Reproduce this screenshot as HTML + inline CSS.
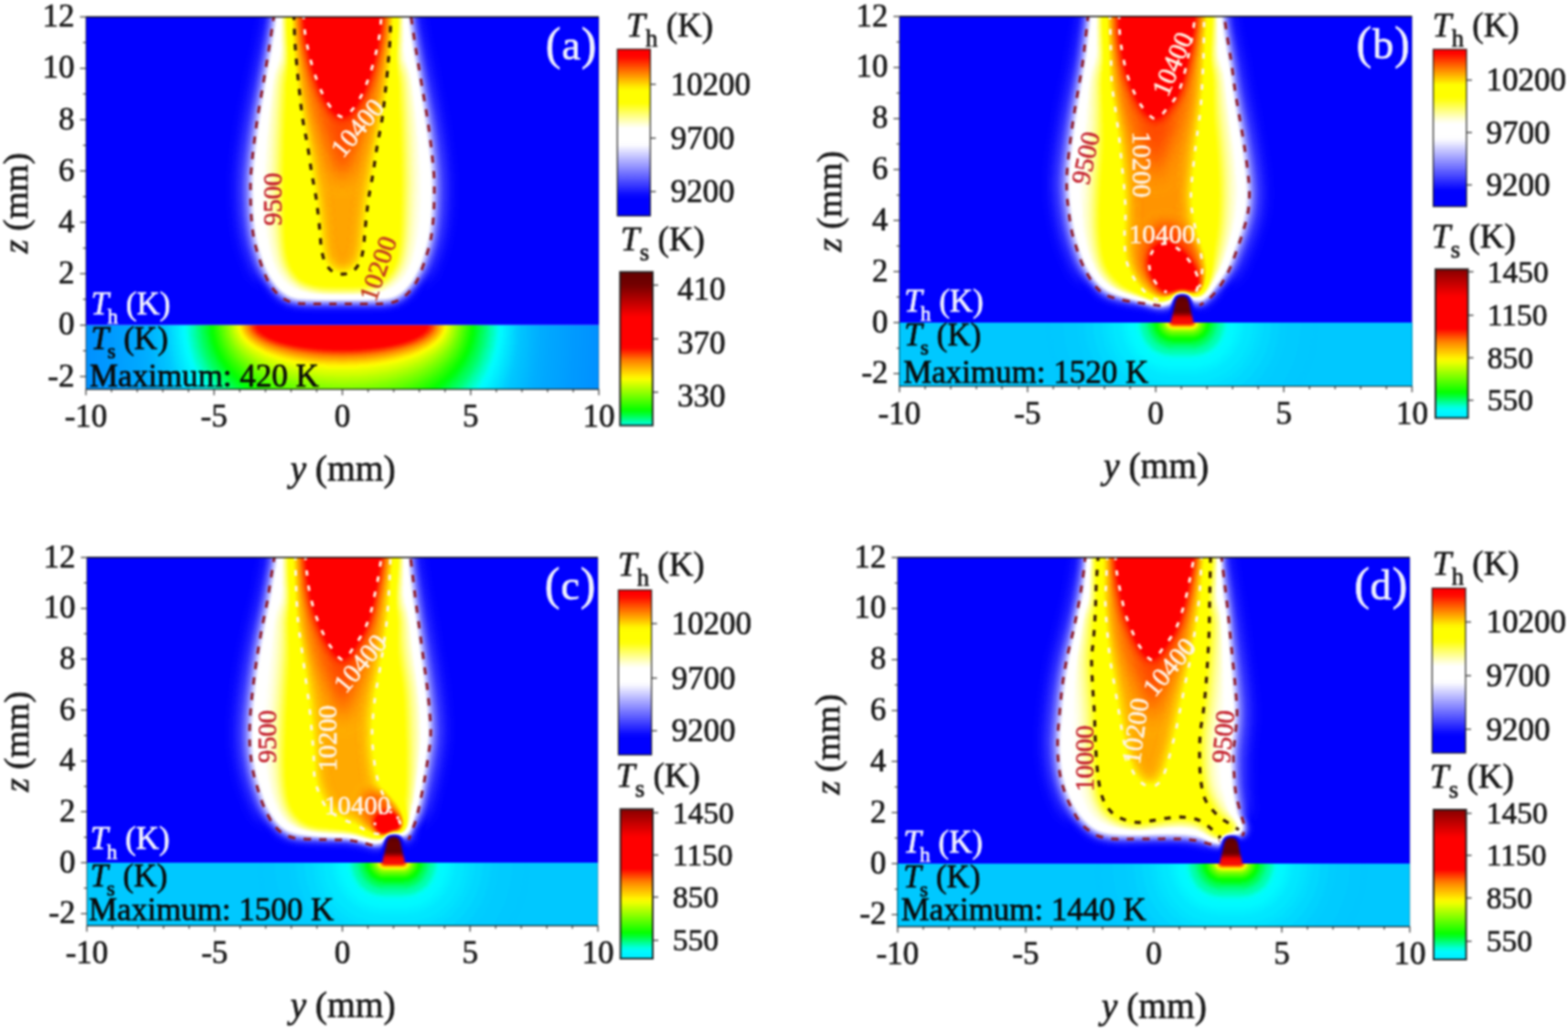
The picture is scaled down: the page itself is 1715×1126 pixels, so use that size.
<!DOCTYPE html>
<html><head><meta charset="utf-8"><title>Plasma temperature fields</title>
<style>
html,body{margin:0;padding:0;background:#fff;}
body{width:1715px;height:1126px;overflow:hidden;}
svg{display:block;font-family:'Liberation Serif', serif;filter:blur(1.1px);}
text{stroke-width:0.7px;stroke-linejoin:round;}
</style></head><body>
<svg width="1715" height="1126" viewBox="0 0 1715 1126">
<defs><filter id="cmTh" x="0" y="0" width="100%" height="100%" filterUnits="objectBoundingBox" color-interpolation-filters="sRGB"><feComponentTransfer><feFuncR type="table" tableValues="0.000 0.026 0.053 0.079 0.105 0.132 0.158 0.184 0.210 0.237 0.263 0.289 0.316 0.342 0.368 0.395 0.421 0.447 0.474 0.500 0.526 0.552 0.579 0.605 0.631 0.658 0.684 0.710 0.737 0.763 0.789 0.816 0.842 0.868 0.894 0.921 0.947 0.973 1.000 1.000 1.000 1.000 1.000 1.000 1.000 1.000 1.000 1.000 1.000 1.000 1.000 1.000 1.000 1.000 1.000 1.000 1.000 1.000 1.000 1.000 1.000 1.000 1.000 1.000 1.000 1.000 1.000 1.000 1.000 1.000 1.000 1.000 1.000 1.000 1.000 1.000 1.000 1.000 1.000 1.000 1.000 1.000 1.000 1.000 1.000 1.000 1.000 1.000 1.000 1.000 1.000 1.000 1.000 1.000 1.000 1.000 1.000 1.000 1.000 1.000 1.000 1.000 1.000 1.000 1.000 1.000 1.000 1.000 1.000 1.000 1.000 1.000 1.000 1.000 1.000 1.000 1.000 1.000 1.000 1.000 1.000 1.000 1.000 1.000 1.000 1.000 1.000 1.000 1.000"/><feFuncG type="table" tableValues="0.000 0.026 0.053 0.079 0.105 0.132 0.158 0.184 0.210 0.237 0.263 0.289 0.316 0.342 0.368 0.395 0.421 0.447 0.474 0.500 0.526 0.552 0.579 0.605 0.631 0.658 0.684 0.710 0.737 0.763 0.789 0.816 0.842 0.868 0.894 0.921 0.947 0.973 1.000 1.000 1.000 1.000 1.000 1.000 1.000 1.000 1.000 1.000 1.000 1.000 1.000 1.000 1.000 1.000 1.000 1.000 1.000 1.000 1.000 1.000 1.000 1.000 1.000 1.000 1.000 1.000 1.000 1.000 1.000 1.000 1.000 1.000 1.000 1.000 1.000 1.000 1.000 1.000 0.995 0.953 0.911 0.869 0.827 0.785 0.742 0.700 0.658 0.616 0.574 0.532 0.490 0.448 0.405 0.363 0.321 0.279 0.237 0.195 0.153 0.111 0.068 0.026 0.000 0.000 0.000 0.000 0.000 0.000 0.000 0.000 0.000 0.000 0.000 0.000 0.000 0.000 0.000 0.000 0.000 0.000 0.000 0.000 0.000 0.000 0.000 0.000 0.000 0.000 0.000"/><feFuncB type="table" tableValues="1.000 1.000 1.000 1.000 1.000 1.000 1.000 1.000 1.000 1.000 1.000 1.000 1.000 1.000 1.000 1.000 1.000 1.000 1.000 1.000 1.000 1.000 1.000 1.000 1.000 1.000 1.000 1.000 1.000 1.000 1.000 1.000 1.000 1.000 1.000 1.000 1.000 1.000 1.000 1.000 1.000 1.000 1.000 1.000 1.000 1.000 1.000 1.000 1.000 1.000 0.989 0.934 0.880 0.825 0.770 0.715 0.660 0.605 0.550 0.496 0.441 0.386 0.331 0.276 0.221 0.166 0.112 0.057 0.002 0.000 0.000 0.000 0.000 0.000 0.000 0.000 0.000 0.000 0.000 0.000 0.000 0.000 0.000 0.000 0.000 0.000 0.000 0.000 0.000 0.000 0.000 0.000 0.000 0.000 0.000 0.000 0.000 0.000 0.000 0.000 0.000 0.000 0.000 0.000 0.000 0.000 0.000 0.000 0.000 0.000 0.000 0.000 0.000 0.000 0.000 0.000 0.000 0.000 0.000 0.000 0.000 0.000 0.000 0.000 0.000 0.000 0.000 0.000 0.000"/></feComponentTransfer></filter>
<filter id="cmTs" x="0" y="0" width="100%" height="100%" filterUnits="objectBoundingBox" color-interpolation-filters="sRGB"><feComponentTransfer><feFuncR type="table" tableValues="0.000 0.000 0.000 0.000 0.000 0.000 0.000 0.000 0.000 0.000 0.000 0.000 0.000 0.000 0.000 0.000 0.000 0.000 0.000 0.000 0.000 0.000 0.000 0.000 0.000 0.000 0.000 0.000 0.000 0.000 0.000 0.000 0.000 0.000 0.000 0.000 0.000 0.000 0.000 0.000 0.000 0.000 0.000 0.000 0.000 0.000 0.031 0.095 0.159 0.223 0.287 0.351 0.415 0.479 0.543 0.607 0.670 0.734 0.798 0.862 0.926 0.990 1.000 1.000 1.000 1.000 1.000 1.000 1.000 1.000 1.000 1.000 1.000 1.000 1.000 1.000 1.000 1.000 1.000 1.000 1.000 1.000 1.000 1.000 1.000 1.000 1.000 1.000 1.000 1.000 1.000 1.000 0.978 0.942 0.906 0.870 0.834 0.798 0.762 0.726 0.690 0.654 0.619 0.583 0.547 0.511 0.475 0.448 0.440 0.432 0.423 0.415 0.407 0.399 0.390 0.382 0.374 0.366 0.357 0.349 0.341 0.332 0.324 0.316 0.308 0.299 0.291 0.283 0.275"/><feFuncG type="table" tableValues="0.529 0.533 0.537 0.541 0.545 0.549 0.553 0.556 0.567 0.578 0.590 0.601 0.613 0.624 0.636 0.647 0.658 0.670 0.681 0.693 0.704 0.716 0.727 0.738 0.750 0.761 0.773 0.784 0.804 0.824 0.845 0.865 0.885 0.905 0.925 0.946 0.966 0.986 1.000 1.000 1.000 1.000 1.000 1.000 1.000 1.000 1.000 1.000 1.000 1.000 1.000 1.000 1.000 1.000 1.000 1.000 1.000 1.000 1.000 1.000 1.000 1.000 0.953 0.897 0.841 0.785 0.729 0.673 0.617 0.560 0.504 0.423 0.340 0.257 0.173 0.090 0.007 0.000 0.000 0.000 0.000 0.000 0.000 0.000 0.000 0.000 0.000 0.000 0.000 0.000 0.000 0.000 0.000 0.000 0.000 0.000 0.000 0.000 0.000 0.000 0.000 0.000 0.000 0.000 0.000 0.000 0.000 0.000 0.000 0.000 0.000 0.000 0.000 0.000 0.000 0.000 0.000 0.000 0.000 0.000 0.000 0.000 0.000 0.000 0.000 0.000 0.000 0.000 0.000"/><feFuncB type="table" tableValues="1.000 1.000 1.000 1.000 1.000 1.000 1.000 1.000 1.000 1.000 1.000 1.000 1.000 1.000 1.000 1.000 1.000 1.000 1.000 1.000 1.000 1.000 1.000 1.000 1.000 1.000 1.000 1.000 1.000 1.000 1.000 1.000 1.000 1.000 1.000 1.000 1.000 1.000 0.960 0.832 0.705 0.577 0.449 0.321 0.193 0.065 0.000 0.000 0.000 0.000 0.000 0.000 0.000 0.000 0.000 0.000 0.000 0.000 0.000 0.000 0.000 0.000 0.000 0.000 0.000 0.000 0.000 0.000 0.000 0.000 0.000 0.000 0.000 0.000 0.000 0.000 0.000 0.000 0.000 0.000 0.000 0.000 0.000 0.000 0.000 0.000 0.000 0.000 0.000 0.000 0.000 0.000 0.000 0.000 0.000 0.000 0.000 0.000 0.000 0.000 0.000 0.000 0.000 0.000 0.000 0.000 0.000 0.000 0.000 0.000 0.000 0.000 0.000 0.000 0.000 0.000 0.000 0.000 0.000 0.000 0.000 0.000 0.000 0.000 0.000 0.000 0.000 0.000 0.000"/></feComponentTransfer></filter>
<clipPath id="clipa"><rect x="94" y="18.5" width="561" height="407.5"/></clipPath>
<clipPath id="clipag"><rect x="94" y="18.5" width="561" height="337.2"/></clipPath>
<clipPath id="clipas"><rect x="94" y="355.7" width="561" height="70.3"/></clipPath>
<clipPath id="yc1"><rect x="0" y="-31.5" width="1715" height="332.5"/></clipPath>
<filter id="b9_0" x="-50%" y="-50%" width="200%" height="200%" color-interpolation-filters="sRGB"><feGaussianBlur stdDeviation="9"/></filter>
<filter id="b6_0" x="-50%" y="-50%" width="200%" height="200%" color-interpolation-filters="sRGB"><feGaussianBlur stdDeviation="6"/></filter>
<filter id="b5_5" x="-50%" y="-50%" width="200%" height="200%" color-interpolation-filters="sRGB"><feGaussianBlur stdDeviation="5.5"/></filter>
<clipPath id="yc2"><rect x="0" y="73.5" width="1715" height="226.5"/></clipPath>
<filter id="b9_5" x="-50%" y="-50%" width="200%" height="200%" color-interpolation-filters="sRGB"><feGaussianBlur stdDeviation="9.5"/></filter>
<filter id="b7_5" x="-50%" y="-50%" width="200%" height="200%" color-interpolation-filters="sRGB"><feGaussianBlur stdDeviation="7.5"/></filter>
<filter id="b10_0" x="-50%" y="-50%" width="200%" height="200%" color-interpolation-filters="sRGB"><feGaussianBlur stdDeviation="10"/></filter>
<filter id="b3_0" x="-50%" y="-50%" width="200%" height="200%" color-interpolation-filters="sRGB"><feGaussianBlur stdDeviation="3"/></filter>
<linearGradient id="gha" x1="0" y1="0" x2="0" y2="1"><stop offset="0.000" stop-color="rgb(255,0,0)"/><stop offset="0.025" stop-color="rgb(255,0,0)"/><stop offset="0.050" stop-color="rgb(255,9,0)"/><stop offset="0.075" stop-color="rgb(255,41,0)"/><stop offset="0.100" stop-color="rgb(255,73,0)"/><stop offset="0.125" stop-color="rgb(255,106,0)"/><stop offset="0.150" stop-color="rgb(255,138,0)"/><stop offset="0.175" stop-color="rgb(255,171,0)"/><stop offset="0.200" stop-color="rgb(255,203,0)"/><stop offset="0.225" stop-color="rgb(255,235,0)"/><stop offset="0.250" stop-color="rgb(255,255,0)"/><stop offset="0.275" stop-color="rgb(255,255,0)"/><stop offset="0.300" stop-color="rgb(255,255,0)"/><stop offset="0.325" stop-color="rgb(255,255,5)"/><stop offset="0.350" stop-color="rgb(255,255,47)"/><stop offset="0.375" stop-color="rgb(255,255,89)"/><stop offset="0.400" stop-color="rgb(255,255,132)"/><stop offset="0.425" stop-color="rgb(255,255,174)"/><stop offset="0.450" stop-color="rgb(255,255,216)"/><stop offset="0.475" stop-color="rgb(255,255,255)"/><stop offset="0.500" stop-color="rgb(255,255,255)"/><stop offset="0.525" stop-color="rgb(255,255,255)"/><stop offset="0.550" stop-color="rgb(255,255,255)"/><stop offset="0.575" stop-color="rgb(252,252,255)"/><stop offset="0.600" stop-color="rgb(232,232,255)"/><stop offset="0.625" stop-color="rgb(211,211,255)"/><stop offset="0.650" stop-color="rgb(191,191,255)"/><stop offset="0.675" stop-color="rgb(171,171,255)"/><stop offset="0.700" stop-color="rgb(151,151,255)"/><stop offset="0.725" stop-color="rgb(130,130,255)"/><stop offset="0.750" stop-color="rgb(110,110,255)"/><stop offset="0.775" stop-color="rgb(90,90,255)"/><stop offset="0.800" stop-color="rgb(70,70,255)"/><stop offset="0.825" stop-color="rgb(50,50,255)"/><stop offset="0.850" stop-color="rgb(29,29,255)"/><stop offset="0.875" stop-color="rgb(9,9,255)"/><stop offset="0.900" stop-color="rgb(0,0,255)"/><stop offset="0.925" stop-color="rgb(0,0,255)"/><stop offset="0.950" stop-color="rgb(0,0,255)"/><stop offset="0.975" stop-color="rgb(0,0,255)"/><stop offset="1.000" stop-color="rgb(0,0,255)"/></linearGradient>
<linearGradient id="gsa" x1="0" y1="0" x2="0" y2="1"><stop offset="0.000" stop-color="rgb(101,0,0)"/><stop offset="0.025" stop-color="rgb(105,0,0)"/><stop offset="0.050" stop-color="rgb(109,0,0)"/><stop offset="0.075" stop-color="rgb(113,0,0)"/><stop offset="0.100" stop-color="rgb(125,0,0)"/><stop offset="0.125" stop-color="rgb(142,0,0)"/><stop offset="0.150" stop-color="rgb(159,0,0)"/><stop offset="0.175" stop-color="rgb(176,0,0)"/><stop offset="0.200" stop-color="rgb(193,0,0)"/><stop offset="0.225" stop-color="rgb(210,0,0)"/><stop offset="0.250" stop-color="rgb(227,0,0)"/><stop offset="0.275" stop-color="rgb(244,0,0)"/><stop offset="0.300" stop-color="rgb(255,0,0)"/><stop offset="0.325" stop-color="rgb(255,0,0)"/><stop offset="0.350" stop-color="rgb(255,0,0)"/><stop offset="0.375" stop-color="rgb(255,0,0)"/><stop offset="0.400" stop-color="rgb(255,0,0)"/><stop offset="0.425" stop-color="rgb(255,0,0)"/><stop offset="0.450" stop-color="rgb(255,0,0)"/><stop offset="0.475" stop-color="rgb(255,0,0)"/><stop offset="0.500" stop-color="rgb(255,8,0)"/><stop offset="0.525" stop-color="rgb(255,47,0)"/><stop offset="0.550" stop-color="rgb(255,87,0)"/><stop offset="0.575" stop-color="rgb(255,126,0)"/><stop offset="0.600" stop-color="rgb(255,153,0)"/><stop offset="0.625" stop-color="rgb(255,180,0)"/><stop offset="0.650" stop-color="rgb(255,207,0)"/><stop offset="0.675" stop-color="rgb(255,233,0)"/><stop offset="0.700" stop-color="rgb(249,255,0)"/><stop offset="0.725" stop-color="rgb(219,255,0)"/><stop offset="0.750" stop-color="rgb(188,255,0)"/><stop offset="0.775" stop-color="rgb(158,255,0)"/><stop offset="0.800" stop-color="rgb(128,255,0)"/><stop offset="0.825" stop-color="rgb(97,255,0)"/><stop offset="0.850" stop-color="rgb(67,255,0)"/><stop offset="0.875" stop-color="rgb(36,255,0)"/><stop offset="0.900" stop-color="rgb(6,255,0)"/><stop offset="0.925" stop-color="rgb(0,255,49)"/><stop offset="0.950" stop-color="rgb(0,255,110)"/><stop offset="0.975" stop-color="rgb(0,255,171)"/><stop offset="1.000" stop-color="rgb(0,255,232)"/></linearGradient>
<clipPath id="clipb"><rect x="983.8" y="18" width="560.6" height="404.7"/></clipPath>
<clipPath id="clipbg"><rect x="983.8" y="18" width="560.6" height="335"/></clipPath>
<clipPath id="clipbs"><rect x="983.8" y="353" width="560.6" height="69.7"/></clipPath>
<clipPath id="yc3"><rect x="0" y="-32" width="1715" height="333"/></clipPath>
<clipPath id="yc4"><rect x="0" y="73" width="1715" height="230"/></clipPath>
<filter id="b8_0" x="-50%" y="-50%" width="200%" height="200%" color-interpolation-filters="sRGB"><feGaussianBlur stdDeviation="8"/></filter>
<filter id="b7_0" x="-50%" y="-50%" width="200%" height="200%" color-interpolation-filters="sRGB"><feGaussianBlur stdDeviation="7"/></filter>
<filter id="b4_5" x="-50%" y="-50%" width="200%" height="200%" color-interpolation-filters="sRGB"><feGaussianBlur stdDeviation="4.5"/></filter>
<filter id="b1_3" x="-50%" y="-50%" width="200%" height="200%" color-interpolation-filters="sRGB"><feGaussianBlur stdDeviation="1.3"/></filter>
<filter id="b1_5" x="-50%" y="-50%" width="200%" height="200%" color-interpolation-filters="sRGB"><feGaussianBlur stdDeviation="1.5"/></filter>
<linearGradient id="bgb" gradientUnits="userSpaceOnUse" x1="0" y1="324" x2="0" y2="353"><stop offset="0" stop-color="#5a0000"/><stop offset="0.3" stop-color="#6a0000"/><stop offset="0.58" stop-color="#640000"/><stop offset="0.68" stop-color="#900000"/><stop offset="0.8" stop-color="#f00000"/><stop offset="1" stop-color="#ff1000"/></linearGradient>
<filter id="b0_9" x="-50%" y="-50%" width="200%" height="200%" color-interpolation-filters="sRGB"><feGaussianBlur stdDeviation="0.9"/></filter>
<linearGradient id="ghb" x1="0" y1="0" x2="0" y2="1"><stop offset="0.000" stop-color="rgb(255,0,0)"/><stop offset="0.025" stop-color="rgb(255,4,0)"/><stop offset="0.050" stop-color="rgb(255,35,0)"/><stop offset="0.075" stop-color="rgb(255,66,0)"/><stop offset="0.100" stop-color="rgb(255,98,0)"/><stop offset="0.125" stop-color="rgb(255,129,0)"/><stop offset="0.150" stop-color="rgb(255,160,0)"/><stop offset="0.175" stop-color="rgb(255,191,0)"/><stop offset="0.200" stop-color="rgb(255,222,0)"/><stop offset="0.225" stop-color="rgb(255,254,0)"/><stop offset="0.250" stop-color="rgb(255,255,0)"/><stop offset="0.275" stop-color="rgb(255,255,0)"/><stop offset="0.300" stop-color="rgb(255,255,0)"/><stop offset="0.325" stop-color="rgb(255,255,23)"/><stop offset="0.350" stop-color="rgb(255,255,64)"/><stop offset="0.375" stop-color="rgb(255,255,104)"/><stop offset="0.400" stop-color="rgb(255,255,145)"/><stop offset="0.425" stop-color="rgb(255,255,186)"/><stop offset="0.450" stop-color="rgb(255,255,226)"/><stop offset="0.475" stop-color="rgb(255,255,255)"/><stop offset="0.500" stop-color="rgb(255,255,255)"/><stop offset="0.525" stop-color="rgb(255,255,255)"/><stop offset="0.550" stop-color="rgb(255,255,255)"/><stop offset="0.575" stop-color="rgb(250,250,255)"/><stop offset="0.600" stop-color="rgb(231,231,255)"/><stop offset="0.625" stop-color="rgb(211,211,255)"/><stop offset="0.650" stop-color="rgb(192,192,255)"/><stop offset="0.675" stop-color="rgb(172,172,255)"/><stop offset="0.700" stop-color="rgb(153,153,255)"/><stop offset="0.725" stop-color="rgb(133,133,255)"/><stop offset="0.750" stop-color="rgb(114,114,255)"/><stop offset="0.775" stop-color="rgb(94,94,255)"/><stop offset="0.800" stop-color="rgb(75,75,255)"/><stop offset="0.825" stop-color="rgb(55,55,255)"/><stop offset="0.850" stop-color="rgb(36,36,255)"/><stop offset="0.875" stop-color="rgb(17,17,255)"/><stop offset="0.900" stop-color="rgb(0,0,255)"/><stop offset="0.925" stop-color="rgb(0,0,255)"/><stop offset="0.950" stop-color="rgb(0,0,255)"/><stop offset="0.975" stop-color="rgb(0,0,255)"/><stop offset="1.000" stop-color="rgb(0,0,255)"/></linearGradient>
<linearGradient id="gsb" x1="0" y1="0" x2="0" y2="1"><stop offset="0.000" stop-color="rgb(135,0,0)"/><stop offset="0.025" stop-color="rgb(151,0,0)"/><stop offset="0.050" stop-color="rgb(167,0,0)"/><stop offset="0.075" stop-color="rgb(183,0,0)"/><stop offset="0.100" stop-color="rgb(200,0,0)"/><stop offset="0.125" stop-color="rgb(216,0,0)"/><stop offset="0.150" stop-color="rgb(232,0,0)"/><stop offset="0.175" stop-color="rgb(248,0,0)"/><stop offset="0.200" stop-color="rgb(255,0,0)"/><stop offset="0.225" stop-color="rgb(255,0,0)"/><stop offset="0.250" stop-color="rgb(255,0,0)"/><stop offset="0.275" stop-color="rgb(255,0,0)"/><stop offset="0.300" stop-color="rgb(255,0,0)"/><stop offset="0.325" stop-color="rgb(255,0,0)"/><stop offset="0.350" stop-color="rgb(255,0,0)"/><stop offset="0.375" stop-color="rgb(255,0,0)"/><stop offset="0.400" stop-color="rgb(255,0,0)"/><stop offset="0.425" stop-color="rgb(255,38,0)"/><stop offset="0.450" stop-color="rgb(255,75,0)"/><stop offset="0.475" stop-color="rgb(255,113,0)"/><stop offset="0.500" stop-color="rgb(255,143,0)"/><stop offset="0.525" stop-color="rgb(255,169,0)"/><stop offset="0.550" stop-color="rgb(255,194,0)"/><stop offset="0.575" stop-color="rgb(255,219,0)"/><stop offset="0.600" stop-color="rgb(255,245,0)"/><stop offset="0.625" stop-color="rgb(238,255,0)"/><stop offset="0.650" stop-color="rgb(209,255,0)"/><stop offset="0.675" stop-color="rgb(180,255,0)"/><stop offset="0.700" stop-color="rgb(151,255,0)"/><stop offset="0.725" stop-color="rgb(122,255,0)"/><stop offset="0.750" stop-color="rgb(93,255,0)"/><stop offset="0.775" stop-color="rgb(64,255,0)"/><stop offset="0.800" stop-color="rgb(35,255,0)"/><stop offset="0.825" stop-color="rgb(6,255,0)"/><stop offset="0.850" stop-color="rgb(0,255,46)"/><stop offset="0.875" stop-color="rgb(0,255,104)"/><stop offset="0.900" stop-color="rgb(0,255,162)"/><stop offset="0.925" stop-color="rgb(0,255,220)"/><stop offset="0.950" stop-color="rgb(0,251,255)"/><stop offset="0.975" stop-color="rgb(0,242,255)"/><stop offset="1.000" stop-color="rgb(0,233,255)"/></linearGradient>
<clipPath id="clipc"><rect x="95" y="610" width="559" height="403"/></clipPath>
<clipPath id="clipcg"><rect x="95" y="610" width="559" height="334"/></clipPath>
<clipPath id="clipcs"><rect x="95" y="944" width="559" height="69"/></clipPath>
<clipPath id="yc5"><rect x="0" y="560" width="1715" height="333"/></clipPath>
<clipPath id="yc6"><rect x="0" y="665" width="1715" height="230"/></clipPath>
<linearGradient id="bgc" gradientUnits="userSpaceOnUse" x1="0" y1="915.5" x2="0" y2="944"><stop offset="0" stop-color="#5a0000"/><stop offset="0.3" stop-color="#6a0000"/><stop offset="0.58" stop-color="#640000"/><stop offset="0.68" stop-color="#900000"/><stop offset="0.8" stop-color="#f00000"/><stop offset="1" stop-color="#ff1000"/></linearGradient>
<linearGradient id="ghc" x1="0" y1="0" x2="0" y2="1"><stop offset="0.000" stop-color="rgb(255,0,0)"/><stop offset="0.025" stop-color="rgb(255,0,0)"/><stop offset="0.050" stop-color="rgb(255,19,0)"/><stop offset="0.075" stop-color="rgb(255,51,0)"/><stop offset="0.100" stop-color="rgb(255,83,0)"/><stop offset="0.125" stop-color="rgb(255,115,0)"/><stop offset="0.150" stop-color="rgb(255,147,0)"/><stop offset="0.175" stop-color="rgb(255,179,0)"/><stop offset="0.200" stop-color="rgb(255,212,0)"/><stop offset="0.225" stop-color="rgb(255,244,0)"/><stop offset="0.250" stop-color="rgb(255,255,0)"/><stop offset="0.275" stop-color="rgb(255,255,0)"/><stop offset="0.300" stop-color="rgb(255,255,0)"/><stop offset="0.325" stop-color="rgb(255,255,14)"/><stop offset="0.350" stop-color="rgb(255,255,56)"/><stop offset="0.375" stop-color="rgb(255,255,98)"/><stop offset="0.400" stop-color="rgb(255,255,140)"/><stop offset="0.425" stop-color="rgb(255,255,181)"/><stop offset="0.450" stop-color="rgb(255,255,223)"/><stop offset="0.475" stop-color="rgb(255,255,255)"/><stop offset="0.500" stop-color="rgb(255,255,255)"/><stop offset="0.525" stop-color="rgb(255,255,255)"/><stop offset="0.550" stop-color="rgb(255,255,255)"/><stop offset="0.575" stop-color="rgb(249,249,255)"/><stop offset="0.600" stop-color="rgb(229,229,255)"/><stop offset="0.625" stop-color="rgb(209,209,255)"/><stop offset="0.650" stop-color="rgb(189,189,255)"/><stop offset="0.675" stop-color="rgb(169,169,255)"/><stop offset="0.700" stop-color="rgb(149,149,255)"/><stop offset="0.725" stop-color="rgb(129,129,255)"/><stop offset="0.750" stop-color="rgb(109,109,255)"/><stop offset="0.775" stop-color="rgb(89,89,255)"/><stop offset="0.800" stop-color="rgb(69,69,255)"/><stop offset="0.825" stop-color="rgb(49,49,255)"/><stop offset="0.850" stop-color="rgb(29,29,255)"/><stop offset="0.875" stop-color="rgb(9,9,255)"/><stop offset="0.900" stop-color="rgb(0,0,255)"/><stop offset="0.925" stop-color="rgb(0,0,255)"/><stop offset="0.950" stop-color="rgb(0,0,255)"/><stop offset="0.975" stop-color="rgb(0,0,255)"/><stop offset="1.000" stop-color="rgb(0,0,255)"/></linearGradient>
<linearGradient id="gsc" x1="0" y1="0" x2="0" y2="1"><stop offset="0.000" stop-color="rgb(135,0,0)"/><stop offset="0.025" stop-color="rgb(151,0,0)"/><stop offset="0.050" stop-color="rgb(167,0,0)"/><stop offset="0.075" stop-color="rgb(183,0,0)"/><stop offset="0.100" stop-color="rgb(200,0,0)"/><stop offset="0.125" stop-color="rgb(216,0,0)"/><stop offset="0.150" stop-color="rgb(232,0,0)"/><stop offset="0.175" stop-color="rgb(248,0,0)"/><stop offset="0.200" stop-color="rgb(255,0,0)"/><stop offset="0.225" stop-color="rgb(255,0,0)"/><stop offset="0.250" stop-color="rgb(255,0,0)"/><stop offset="0.275" stop-color="rgb(255,0,0)"/><stop offset="0.300" stop-color="rgb(255,0,0)"/><stop offset="0.325" stop-color="rgb(255,0,0)"/><stop offset="0.350" stop-color="rgb(255,0,0)"/><stop offset="0.375" stop-color="rgb(255,0,0)"/><stop offset="0.400" stop-color="rgb(255,0,0)"/><stop offset="0.425" stop-color="rgb(255,38,0)"/><stop offset="0.450" stop-color="rgb(255,75,0)"/><stop offset="0.475" stop-color="rgb(255,113,0)"/><stop offset="0.500" stop-color="rgb(255,143,0)"/><stop offset="0.525" stop-color="rgb(255,169,0)"/><stop offset="0.550" stop-color="rgb(255,194,0)"/><stop offset="0.575" stop-color="rgb(255,219,0)"/><stop offset="0.600" stop-color="rgb(255,245,0)"/><stop offset="0.625" stop-color="rgb(238,255,0)"/><stop offset="0.650" stop-color="rgb(209,255,0)"/><stop offset="0.675" stop-color="rgb(180,255,0)"/><stop offset="0.700" stop-color="rgb(151,255,0)"/><stop offset="0.725" stop-color="rgb(122,255,0)"/><stop offset="0.750" stop-color="rgb(93,255,0)"/><stop offset="0.775" stop-color="rgb(64,255,0)"/><stop offset="0.800" stop-color="rgb(35,255,0)"/><stop offset="0.825" stop-color="rgb(6,255,0)"/><stop offset="0.850" stop-color="rgb(0,255,46)"/><stop offset="0.875" stop-color="rgb(0,255,104)"/><stop offset="0.900" stop-color="rgb(0,255,162)"/><stop offset="0.925" stop-color="rgb(0,255,220)"/><stop offset="0.950" stop-color="rgb(0,251,255)"/><stop offset="0.975" stop-color="rgb(0,242,255)"/><stop offset="1.000" stop-color="rgb(0,233,255)"/></linearGradient>
<clipPath id="clipd"><rect x="981.8" y="610" width="560.2" height="404"/></clipPath>
<clipPath id="clipdg"><rect x="981.8" y="610" width="560.2" height="335"/></clipPath>
<clipPath id="clipds"><rect x="981.8" y="945" width="560.2" height="69"/></clipPath>
<clipPath id="yc7"><rect x="0" y="560" width="1715" height="330"/></clipPath>
<clipPath id="yc8"><rect x="0" y="665" width="1715" height="227"/></clipPath>
<linearGradient id="bgd" gradientUnits="userSpaceOnUse" x1="0" y1="916.5" x2="0" y2="945"><stop offset="0" stop-color="#5a0000"/><stop offset="0.3" stop-color="#6a0000"/><stop offset="0.58" stop-color="#640000"/><stop offset="0.68" stop-color="#900000"/><stop offset="0.8" stop-color="#f00000"/><stop offset="1" stop-color="#ff1000"/></linearGradient>
<linearGradient id="ghd" x1="0" y1="0" x2="0" y2="1"><stop offset="0.000" stop-color="rgb(255,0,0)"/><stop offset="0.025" stop-color="rgb(255,0,0)"/><stop offset="0.050" stop-color="rgb(255,18,0)"/><stop offset="0.075" stop-color="rgb(255,50,0)"/><stop offset="0.100" stop-color="rgb(255,82,0)"/><stop offset="0.125" stop-color="rgb(255,114,0)"/><stop offset="0.150" stop-color="rgb(255,146,0)"/><stop offset="0.175" stop-color="rgb(255,178,0)"/><stop offset="0.200" stop-color="rgb(255,210,0)"/><stop offset="0.225" stop-color="rgb(255,242,0)"/><stop offset="0.250" stop-color="rgb(255,255,0)"/><stop offset="0.275" stop-color="rgb(255,255,0)"/><stop offset="0.300" stop-color="rgb(255,255,0)"/><stop offset="0.325" stop-color="rgb(255,255,12)"/><stop offset="0.350" stop-color="rgb(255,255,54)"/><stop offset="0.375" stop-color="rgb(255,255,96)"/><stop offset="0.400" stop-color="rgb(255,255,137)"/><stop offset="0.425" stop-color="rgb(255,255,179)"/><stop offset="0.450" stop-color="rgb(255,255,221)"/><stop offset="0.475" stop-color="rgb(255,255,255)"/><stop offset="0.500" stop-color="rgb(255,255,255)"/><stop offset="0.525" stop-color="rgb(255,255,255)"/><stop offset="0.550" stop-color="rgb(255,255,255)"/><stop offset="0.575" stop-color="rgb(251,251,255)"/><stop offset="0.600" stop-color="rgb(231,231,255)"/><stop offset="0.625" stop-color="rgb(211,211,255)"/><stop offset="0.650" stop-color="rgb(191,191,255)"/><stop offset="0.675" stop-color="rgb(171,171,255)"/><stop offset="0.700" stop-color="rgb(151,151,255)"/><stop offset="0.725" stop-color="rgb(131,131,255)"/><stop offset="0.750" stop-color="rgb(111,111,255)"/><stop offset="0.775" stop-color="rgb(91,91,255)"/><stop offset="0.800" stop-color="rgb(71,71,255)"/><stop offset="0.825" stop-color="rgb(51,51,255)"/><stop offset="0.850" stop-color="rgb(31,31,255)"/><stop offset="0.875" stop-color="rgb(11,11,255)"/><stop offset="0.900" stop-color="rgb(0,0,255)"/><stop offset="0.925" stop-color="rgb(0,0,255)"/><stop offset="0.950" stop-color="rgb(0,0,255)"/><stop offset="0.975" stop-color="rgb(0,0,255)"/><stop offset="1.000" stop-color="rgb(0,0,255)"/></linearGradient>
<linearGradient id="gsd" x1="0" y1="0" x2="0" y2="1"><stop offset="0.000" stop-color="rgb(135,0,0)"/><stop offset="0.025" stop-color="rgb(151,0,0)"/><stop offset="0.050" stop-color="rgb(167,0,0)"/><stop offset="0.075" stop-color="rgb(183,0,0)"/><stop offset="0.100" stop-color="rgb(200,0,0)"/><stop offset="0.125" stop-color="rgb(216,0,0)"/><stop offset="0.150" stop-color="rgb(232,0,0)"/><stop offset="0.175" stop-color="rgb(248,0,0)"/><stop offset="0.200" stop-color="rgb(255,0,0)"/><stop offset="0.225" stop-color="rgb(255,0,0)"/><stop offset="0.250" stop-color="rgb(255,0,0)"/><stop offset="0.275" stop-color="rgb(255,0,0)"/><stop offset="0.300" stop-color="rgb(255,0,0)"/><stop offset="0.325" stop-color="rgb(255,0,0)"/><stop offset="0.350" stop-color="rgb(255,0,0)"/><stop offset="0.375" stop-color="rgb(255,0,0)"/><stop offset="0.400" stop-color="rgb(255,0,0)"/><stop offset="0.425" stop-color="rgb(255,38,0)"/><stop offset="0.450" stop-color="rgb(255,75,0)"/><stop offset="0.475" stop-color="rgb(255,113,0)"/><stop offset="0.500" stop-color="rgb(255,143,0)"/><stop offset="0.525" stop-color="rgb(255,169,0)"/><stop offset="0.550" stop-color="rgb(255,194,0)"/><stop offset="0.575" stop-color="rgb(255,219,0)"/><stop offset="0.600" stop-color="rgb(255,245,0)"/><stop offset="0.625" stop-color="rgb(238,255,0)"/><stop offset="0.650" stop-color="rgb(209,255,0)"/><stop offset="0.675" stop-color="rgb(180,255,0)"/><stop offset="0.700" stop-color="rgb(151,255,0)"/><stop offset="0.725" stop-color="rgb(122,255,0)"/><stop offset="0.750" stop-color="rgb(93,255,0)"/><stop offset="0.775" stop-color="rgb(64,255,0)"/><stop offset="0.800" stop-color="rgb(35,255,0)"/><stop offset="0.825" stop-color="rgb(6,255,0)"/><stop offset="0.850" stop-color="rgb(0,255,46)"/><stop offset="0.875" stop-color="rgb(0,255,104)"/><stop offset="0.900" stop-color="rgb(0,255,162)"/><stop offset="0.925" stop-color="rgb(0,255,220)"/><stop offset="0.950" stop-color="rgb(0,251,255)"/><stop offset="0.975" stop-color="rgb(0,242,255)"/><stop offset="1.000" stop-color="rgb(0,233,255)"/></linearGradient></defs>
<rect width="1715" height="1126" fill="#fff"/>
<g><g clip-path="url(#clipag)"><g filter="url(#cmTh)"><rect x="92" y="16.5" width="565" height="341.2" fill="#000"/><g filter="url(#b9_0)"><path d="M298,17.8C297.1,22.2 294.2,35.9 292.4,44.5C290.5,53.1 288.9,60.2 286.9,69.3C284.9,78.3 282.5,89 280.4,99C278.2,108.9 276,118.9 274.1,128.9C272.2,138.9 270.5,148.9 269.1,159C267.7,169.1 266.3,180.9 265.6,189.4C264.9,197.9 265,203.2 265,210C265,216.8 265.3,223.8 265.8,230.4C266.3,237.1 267.1,243.9 268.1,249.9C269,255.9 270,261 271.5,266.5C273.1,272 275.1,277.4 277.2,282.8C279.3,288.2 281.7,293.9 284.1,298.8C286.4,303.6 288.6,307.9 291.4,311.9C294.1,315.8 297.4,319.5 300.6,322.4C303.8,325.3 306.9,327.5 310.5,329.3C314.1,331.1 317.5,332.3 322.2,333.1C326.9,333.9 332.2,333.9 338.5,334C344.7,334.2 353.5,334 359.5,334C365.5,334 369.5,334 374.5,334C379.5,334 383.5,334 389.5,334C395.5,334 404.3,334.2 410.5,334C416.8,333.9 422.1,333.9 426.8,333.1C431.5,332.3 434.9,331.1 438.5,329.3C442.1,327.5 445.2,325.3 448.4,322.4C451.6,319.5 454.9,315.8 457.6,311.9C460.4,307.9 462.6,303.6 464.9,298.8C467.3,293.9 469.7,288.2 471.8,282.8C473.9,277.4 475.9,272 477.5,266.5C479,261 480,255.9 480.9,249.9C481.9,243.9 482.7,237.1 483.2,230.4C483.7,223.8 484,216.8 484,210C484,203.2 484.1,197.9 483.4,189.4C482.7,180.9 481.3,169.1 479.9,159C478.5,148.9 476.8,138.9 474.9,128.9C473,118.9 470.8,108.9 468.6,99C466.5,89 464.1,78.3 462.1,69.3C460.1,60.2 458.5,53.1 456.6,44.5C454.8,35.9 451.9,22.2 451,17.8L451,-22.2 L298,-22.2 Z" fill="#272727" clip-path="url(#yc1)"/></g><path d="M301.5,18.3C300.8,22.8 298.8,36.6 297.5,45.3C296.1,54 295,61.2 293.5,70.3C292,79.5 290.1,90.3 288.5,100.3C286.8,110.3 285,120.3 283.5,130.3C282,140.3 280.7,150.3 279.5,160.2C278.3,170.2 277.1,181.8 276.5,190.1C275.9,198.4 276,203.4 276,210C276,216.6 276.2,223.4 276.5,229.9C276.8,236.4 277.3,243 278,248.8C278.6,254.6 279.3,259.3 280.5,264.6C281.6,269.8 283.3,275.1 284.9,280.4C286.6,285.7 288.5,291.5 290.4,296.3C292.2,301 294,305.2 296.2,309C298.5,312.8 301.2,316.3 303.9,319.1C306.6,321.9 309.3,324 312.5,325.7C315.6,327.5 318.5,328.7 322.9,329.5C327.2,330.3 332.4,330.3 338.6,330.5C344.7,330.7 353.5,330.5 359.5,330.5C365.5,330.5 369.5,330.5 374.5,330.5C379.5,330.5 383.5,330.5 389.5,330.5C395.5,330.5 404.3,330.7 410.4,330.5C416.6,330.3 421.8,330.3 426.1,329.5C430.5,328.7 433.4,327.5 436.5,325.7C439.7,324 442.4,321.9 445.1,319.1C447.8,316.3 450.5,312.8 452.8,309C455,305.2 456.8,301 458.6,296.3C460.5,291.5 462.4,285.7 464.1,280.4C465.7,275.1 467.4,269.8 468.5,264.6C469.7,259.3 470.4,254.6 471,248.8C471.7,243 472.2,236.4 472.5,229.9C472.8,223.4 473,216.6 473,210C473,203.4 473.1,198.4 472.5,190.1C471.9,181.8 470.7,170.2 469.5,160.2C468.3,150.3 467,140.3 465.5,130.3C464,120.3 462.2,110.3 460.5,100.3C458.9,90.3 457,79.5 455.5,70.3C454,61.2 452.9,54 451.5,45.3C450.2,36.6 448.2,22.8 447.5,18.3L447.5,-21.7 L301.5,-21.7 Z" fill="#636363" filter="url(#b6_0)"/><path d="M312.5,18C312.8,26.7 313.9,51.6 314.1,70.3C314.4,89 314.3,110.5 314.2,130.4C314,150.4 313.7,172.7 313.5,190.1C313.3,207.5 313,221.4 312.9,234.6C312.8,247.7 312.3,259.2 313.1,269.1C313.8,278.9 314.9,286.9 317.3,293.7C319.6,300.5 321.8,305.9 327.2,310C332.6,314 341.7,316.7 349.6,318.1C357.4,319.6 366.2,318.7 374.5,318.7C382.8,318.7 391.6,319.6 399.4,318.1C407.3,316.7 416.4,314 421.8,310C427.2,305.9 429.4,300.5 431.7,293.7C434.1,286.9 435.2,278.9 435.9,269.1C436.7,259.2 436.2,247.7 436.1,234.6C436,221.4 435.7,207.5 435.5,190.1C435.3,172.7 435,150.4 434.8,130.4C434.7,110.5 434.6,89 434.9,70.3C435.1,51.6 436.2,26.7 436.5,18L436.5,-22 L312.5,-22 Z" fill="#8d8d8d" filter="url(#b5_5)"/><g filter="url(#b9_5)"><path d="M312.5,18C312,26.7 310.7,51.3 309.5,70C308.3,88.7 306.5,110 305.5,130C304.5,150 303.7,172.5 303.5,190C303.3,207.5 303.8,221.7 304.5,235C305.2,248.3 305.8,260 307.5,270C309.2,280 311.3,288.2 314.5,295C317.7,301.8 320.7,307.1 326.5,311C332.3,314.9 341.5,317.2 349.5,318.5C357.5,319.8 366.2,319 374.5,319C382.8,319 391.5,319.8 399.5,318.5C407.5,317.2 416.7,314.9 422.5,311C428.3,307.1 431.3,301.8 434.5,295C437.7,288.2 439.8,280 441.5,270C443.2,260 443.8,248.3 444.5,235C445.2,221.7 445.7,207.5 445.5,190C445.3,172.5 444.5,150 443.5,130C442.5,110 440.7,88.7 439.5,70C438.3,51.3 437,26.7 436.5,18L436.5,-22 L312.5,-22 Z" fill="#8d8d8d" clip-path="url(#yc2)"/></g><path d="M321.5,18C321.7,22.5 322,36.3 322.5,45C323,53.7 323.7,60.8 324.5,70C325.3,79.2 326.4,90 327.5,100C328.6,110 329.5,120 331,130C332.5,140 334.8,150 336.5,160C338.2,170 339.5,180.8 341,190C342.5,199.2 344.3,207.5 345.5,215C346.7,222.5 347.2,228.3 348,235C348.8,241.7 349.4,248.8 350,255C350.6,261.2 350.6,266.7 351.5,272C352.4,277.3 353.5,282.8 355.5,287C357.5,291.2 360.3,294.8 363.5,297C366.7,299.2 370.8,300 374.5,300C378.2,300 382.3,299.2 385.5,297C388.7,294.8 391.5,291.2 393.5,287C395.5,282.8 396.6,277.3 397.5,272C398.4,266.7 398.4,261.2 399,255C399.6,248.8 400.2,241.7 401,235C401.8,228.3 402.3,222.5 403.5,215C404.7,207.5 406.5,199.2 408,190C409.5,180.8 410.8,170 412.5,160C414.2,150 416.5,140 418,130C419.5,120 420.4,110 421.5,100C422.6,90 423.7,79.2 424.5,70C425.3,60.8 426,53.7 426.5,45C427,36.3 427.3,22.5 427.5,18L427.5,-22 L321.5,-22 Z" fill="#acacac" filter="url(#b7_5)"/><path d="M327.5,18C328,23.3 329,38.8 330.5,50C332,61.2 334.2,74.2 336.5,85C338.8,95.8 341.8,105.5 344.5,115C347.2,124.5 349.8,133.5 352.5,142C355.2,150.5 358,158.7 360.5,166C363,173.3 365.2,181 367.5,186C369.8,191 372.2,196 374.5,196C376.8,196 379.2,191 381.5,186C383.8,181 386,173.3 388.5,166C391,158.7 393.8,150.5 396.5,142C399.2,133.5 401.8,124.5 404.5,115C407.2,105.5 410.2,95.8 412.5,85C414.8,74.2 417,61.2 418.5,50C420,38.8 421,23.3 421.5,18L421.5,-22 L327.5,-22 Z" fill="#bdbdbd" filter="url(#b10_0)"/><path d="M332,18C332.2,20.8 332.8,29.3 333.5,35C334.2,40.7 335.2,45.8 336.5,52C337.8,58.2 339.7,65.7 341.5,72C343.3,78.3 345.3,84.3 347.5,90C349.7,95.7 351.7,100.8 354.5,106C357.3,111.2 361.2,117.3 364.5,121C367.8,124.7 371.2,128 374.5,128C377.8,128 381.2,124.7 384.5,121C387.8,117.3 391.7,111.2 394.5,106C397.3,100.8 399.3,95.7 401.5,90C403.7,84.3 405.7,78.3 407.5,72C409.3,65.7 411.2,58.2 412.5,52C413.8,45.8 414.8,40.7 415.5,35C416.2,29.3 416.8,20.8 417,18L417,-22 L332,-22 Z" fill="#dadada" filter="url(#b6_0)"/></g></g><g clip-path="url(#clipas)"><g filter="url(#cmTs)"><rect x="92" y="353.7" width="565" height="74.3" fill="#363636"/><rect x="92" y="353.7" width="565" height="74.3" fill="#0a0a0a"/><g filter="url(#b3_0)"><ellipse cx="374.5" cy="355.7" rx="330" ry="600" fill="#0b0b0b"/><ellipse cx="374.5" cy="355.7" rx="310" ry="560" fill="#0d0d0d"/><ellipse cx="374.5" cy="355.7" rx="290" ry="520" fill="#0f0f0f"/><ellipse cx="374.5" cy="355.7" rx="283" ry="500" fill="#111111"/><ellipse cx="374.5" cy="355.7" rx="276" ry="480" fill="#121212"/><ellipse cx="374.5" cy="355.7" rx="269" ry="460" fill="#141414"/><ellipse cx="374.5" cy="355.7" rx="262" ry="440" fill="#161616"/><ellipse cx="374.5" cy="355.7" rx="255" ry="420" fill="#171717"/><ellipse cx="374.5" cy="355.7" rx="250.1" ry="405" fill="#191919"/><ellipse cx="374.5" cy="355.7" rx="245.2" ry="390" fill="#1b1b1b"/><ellipse cx="374.5" cy="355.7" rx="240.4" ry="375" fill="#1c1c1c"/><ellipse cx="374.5" cy="355.7" rx="235.5" ry="360" fill="#1e1e1e"/><ellipse cx="374.5" cy="355.7" rx="230.6" ry="345" fill="#1f1f1f"/><ellipse cx="374.5" cy="355.7" rx="225.8" ry="330" fill="#212121"/><ellipse cx="374.5" cy="355.7" rx="220.9" ry="315" fill="#232323"/><ellipse cx="374.5" cy="355.7" rx="216" ry="300" fill="#242424"/><ellipse cx="374.5" cy="355.7" rx="213.9" ry="290.9" fill="#262626"/><ellipse cx="374.5" cy="355.7" rx="211.8" ry="281.8" fill="#282828"/><ellipse cx="374.5" cy="355.7" rx="209.7" ry="272.7" fill="#292929"/><ellipse cx="374.5" cy="355.7" rx="207.6" ry="263.6" fill="#2b2b2b"/><ellipse cx="374.5" cy="355.7" rx="205.5" ry="254.5" fill="#2d2d2d"/><ellipse cx="374.5" cy="355.7" rx="203.5" ry="245.5" fill="#2e2e2e"/><ellipse cx="374.5" cy="355.7" rx="201.4" ry="236.4" fill="#303030"/><ellipse cx="374.5" cy="355.7" rx="199.3" ry="227.3" fill="#323232"/><ellipse cx="374.5" cy="355.7" rx="197.2" ry="218.2" fill="#333333"/><ellipse cx="374.5" cy="355.7" rx="195.1" ry="209.1" fill="#353535"/><ellipse cx="374.5" cy="355.7" rx="193" ry="200" fill="#373737"/><ellipse cx="374.5" cy="355.7" rx="191.3" ry="195" fill="#383838"/><ellipse cx="374.5" cy="355.7" rx="189.7" ry="190" fill="#3a3a3a"/><ellipse cx="374.5" cy="355.7" rx="188" ry="185" fill="#3c3c3c"/><ellipse cx="374.5" cy="355.7" rx="186.3" ry="180" fill="#3e3e3e"/><ellipse cx="374.5" cy="355.7" rx="184.7" ry="175" fill="#404040"/><ellipse cx="374.5" cy="355.7" rx="183" ry="170" fill="#414141"/><ellipse cx="374.5" cy="355.7" rx="181.3" ry="165" fill="#434343"/><ellipse cx="374.5" cy="355.7" rx="179.7" ry="160" fill="#454545"/><ellipse cx="374.5" cy="355.7" rx="178" ry="155" fill="#474747"/><ellipse cx="374.5" cy="355.7" rx="176.3" ry="150" fill="#484848"/><ellipse cx="374.5" cy="355.7" rx="174.7" ry="145" fill="#4a4a4a"/><ellipse cx="374.5" cy="355.7" rx="173" ry="140" fill="#4c4c4c"/><ellipse cx="374.5" cy="355.7" rx="169.7" ry="135.3" fill="#4e4e4e"/><ellipse cx="374.5" cy="355.7" rx="166.3" ry="130.7" fill="#4f4f4f"/><ellipse cx="374.5" cy="355.7" rx="163" ry="126" fill="#515151"/><ellipse cx="374.5" cy="355.7" rx="159.7" ry="121.3" fill="#535353"/><ellipse cx="374.5" cy="355.7" rx="156.3" ry="116.7" fill="#555555"/><ellipse cx="374.5" cy="355.7" rx="153" ry="112" fill="#565656"/><ellipse cx="374.5" cy="355.7" rx="149.7" ry="107.3" fill="#585858"/><ellipse cx="374.5" cy="355.7" rx="146.3" ry="102.7" fill="#5a5a5a"/><ellipse cx="374.5" cy="355.7" rx="143" ry="98" fill="#5c5c5c"/><ellipse cx="374.5" cy="355.7" rx="141.2" ry="94.9" fill="#5d5d5d"/><ellipse cx="374.5" cy="355.7" rx="139.4" ry="91.8" fill="#5f5f5f"/><ellipse cx="374.5" cy="355.7" rx="137.7" ry="88.7" fill="#616161"/><ellipse cx="374.5" cy="355.7" rx="135.9" ry="85.6" fill="#626262"/><ellipse cx="374.5" cy="355.7" rx="134.1" ry="82.4" fill="#646464"/><ellipse cx="374.5" cy="355.7" rx="132.3" ry="79.3" fill="#666666"/><ellipse cx="374.5" cy="355.7" rx="130.6" ry="76.2" fill="#686868"/><ellipse cx="374.5" cy="355.7" rx="128.8" ry="73.1" fill="#696969"/><ellipse cx="374.5" cy="355.7" rx="127" ry="70" fill="#6b6b6b"/><ellipse cx="374.5" cy="355.7" rx="125.4" ry="67.2" fill="#6d6d6d"/><ellipse cx="374.5" cy="355.7" rx="123.9" ry="64.4" fill="#6f6f6f"/><ellipse cx="374.5" cy="355.7" rx="122.3" ry="61.7" fill="#707070"/><ellipse cx="374.5" cy="355.7" rx="120.8" ry="58.9" fill="#727272"/><ellipse cx="374.5" cy="355.7" rx="119.2" ry="56.1" fill="#747474"/><ellipse cx="374.5" cy="355.7" rx="117.7" ry="53.3" fill="#767676"/><ellipse cx="374.5" cy="355.7" rx="116.1" ry="50.6" fill="#777777"/><ellipse cx="374.5" cy="355.7" rx="114.6" ry="47.8" fill="#797979"/><ellipse cx="374.5" cy="355.7" rx="113" ry="45" fill="#7b7b7b"/><ellipse cx="374.5" cy="355.7" rx="112.1" ry="43.9" fill="#7c7c7c"/><ellipse cx="374.5" cy="355.7" rx="111.2" ry="42.8" fill="#7e7e7e"/><ellipse cx="374.5" cy="355.7" rx="110.3" ry="41.7" fill="#808080"/><ellipse cx="374.5" cy="355.7" rx="109.4" ry="40.6" fill="#828282"/><ellipse cx="374.5" cy="355.7" rx="108.5" ry="39.5" fill="#848484"/><ellipse cx="374.5" cy="355.7" rx="107.6" ry="38.4" fill="#858585"/><ellipse cx="374.5" cy="355.7" rx="106.7" ry="37.3" fill="#878787"/><ellipse cx="374.5" cy="355.7" rx="105.8" ry="36.2" fill="#898989"/><ellipse cx="374.5" cy="355.7" rx="104.9" ry="35.1" fill="#8b8b8b"/><ellipse cx="374.5" cy="355.7" rx="104" ry="34" fill="#8c8c8c"/><ellipse cx="374.5" cy="355.7" rx="102.7" ry="33" fill="#8e8e8e"/><ellipse cx="374.5" cy="355.7" rx="101.4" ry="32" fill="#909090"/><ellipse cx="374.5" cy="355.7" rx="100.1" ry="31" fill="#929292"/><ellipse cx="374.5" cy="355.7" rx="98.9" ry="30" fill="#939393"/><ellipse cx="374.5" cy="355.7" rx="97.6" ry="29" fill="#959595"/><ellipse cx="374.5" cy="355.7" rx="96.3" ry="28" fill="#979797"/><ellipse cx="374.5" cy="355.7" rx="95" ry="27" fill="#989898"/><ellipse cx="374.5" cy="355.7" rx="92.2" ry="25.5" fill="#9a9a9a"/><ellipse cx="374.5" cy="355.7" rx="89.5" ry="24" fill="#9c9c9c"/><ellipse cx="374.5" cy="355.7" rx="86.8" ry="22.5" fill="#9e9e9e"/><ellipse cx="374.5" cy="355.7" rx="84" ry="21" fill="#9f9f9f"/><ellipse cx="374.5" cy="355.7" rx="80.9" ry="19.9" fill="#a1a1a1"/><ellipse cx="374.5" cy="355.7" rx="77.7" ry="18.7" fill="#a3a3a3"/><ellipse cx="374.5" cy="355.7" rx="74.6" ry="17.6" fill="#a4a4a4"/><ellipse cx="374.5" cy="355.7" rx="71.4" ry="16.4" fill="#a6a6a6"/><ellipse cx="374.5" cy="355.7" rx="68.3" ry="15.3" fill="#a8a8a8"/><ellipse cx="374.5" cy="355.7" rx="65.1" ry="14.1" fill="#a9a9a9"/><ellipse cx="374.5" cy="355.7" rx="62" ry="13" fill="#ababab"/><ellipse cx="374.5" cy="355.7" rx="58" ry="11.9" fill="#adadad"/><ellipse cx="374.5" cy="355.7" rx="54" ry="10.8" fill="#aeaeae"/><ellipse cx="374.5" cy="355.7" rx="50" ry="9.6" fill="#b0b0b0"/><ellipse cx="374.5" cy="355.7" rx="46" ry="8.5" fill="#b2b2b2"/><ellipse cx="374.5" cy="355.7" rx="42" ry="7.4" fill="#b4b4b4"/><ellipse cx="374.5" cy="355.7" rx="38" ry="6.2" fill="#b6b6b6"/><ellipse cx="374.5" cy="355.7" rx="34" ry="5.1" fill="#b7b7b7"/></g></g></g><g clip-path="url(#clipa)"><path d="M299.5,18C298.8,22.5 296.8,36.3 295.5,45C294.2,53.7 293,60.8 291.5,70C290,79.2 288.2,90 286.5,100C284.8,110 283,120 281.5,130C280,140 278.7,150 277.5,160C276.3,170 275.1,181.7 274.5,190C273.9,198.3 274,203.3 274,210C274,216.7 274.2,223.5 274.5,230C274.8,236.5 275.3,243.2 276,249C276.7,254.8 277.3,259.7 278.5,265C279.7,270.3 281.3,275.7 283,281C284.7,286.3 286.6,292.2 288.5,297C290.4,301.8 292.2,306.1 294.5,310C296.8,313.9 299.7,317.6 302.5,320.5C305.3,323.4 308.2,325.7 311.5,327.5C314.8,329.3 318,330.7 322.5,331.5C327,332.3 332.3,332.3 338.5,332.5C344.7,332.7 353.5,332.5 359.5,332.5C365.5,332.5 369.5,332.5 374.5,332.5C379.5,332.5 383.5,332.5 389.5,332.5C395.5,332.5 404.3,332.7 410.5,332.5C416.7,332.3 422,332.3 426.5,331.5C431,330.7 434.2,329.3 437.5,327.5C440.8,325.7 443.7,323.4 446.5,320.5C449.3,317.6 452.2,313.9 454.5,310C456.8,306.1 458.6,301.8 460.5,297C462.4,292.2 464.3,286.3 466,281C467.7,275.7 469.3,270.3 470.5,265C471.7,259.7 472.3,254.8 473,249C473.7,243.2 474.2,236.5 474.5,230C474.8,223.5 475,216.7 475,210C475,203.3 475.1,198.3 474.5,190C473.9,181.7 472.7,170 471.5,160C470.3,150 469,140 467.5,130C466,120 464.2,110 462.5,100C460.8,90 459,79.2 457.5,70C456,60.8 454.8,53.7 453.5,45C452.2,36.3 450.2,22.5 449.5,18" fill="none" stroke="#8e1f2e" stroke-width="3.0" stroke-dasharray="8 9" stroke-opacity="1" stroke-dashoffset="3"/><path d="M321.5,18C321.7,22.5 322,36.3 322.5,45C323,53.7 323.7,60.8 324.5,70C325.3,79.2 326.4,90 327.5,100C328.6,110 329.5,120 331,130C332.5,140 334.8,150 336.5,160C338.2,170 339.5,180.8 341,190C342.5,199.2 344.3,207.5 345.5,215C346.7,222.5 347.2,228.3 348,235C348.8,241.7 349.4,248.8 350,255C350.6,261.2 350.6,266.7 351.5,272C352.4,277.3 353.5,282.8 355.5,287C357.5,291.2 360.3,294.8 363.5,297C366.7,299.2 370.8,300 374.5,300C378.2,300 382.3,299.2 385.5,297C388.7,294.8 391.5,291.2 393.5,287C395.5,282.8 396.6,277.3 397.5,272C398.4,266.7 398.4,261.2 399,255C399.6,248.8 400.2,241.7 401,235C401.8,228.3 402.3,222.5 403.5,215C404.7,207.5 406.5,199.2 408,190C409.5,180.8 410.8,170 412.5,160C414.2,150 416.5,140 418,130C419.5,120 420.4,110 421.5,100C422.6,90 423.7,79.2 424.5,70C425.3,60.8 426,53.7 426.5,45C427,36.3 427.3,22.5 427.5,18" fill="none" stroke="#3a1c05" stroke-width="3.3" stroke-dasharray="7 9.5" stroke-opacity="1" stroke-dashoffset="3"/><path d="M332,18C332.2,20.8 332.8,29.3 333.5,35C334.2,40.7 335.2,45.8 336.5,52C337.8,58.2 339.7,65.7 341.5,72C343.3,78.3 345.3,84.3 347.5,90C349.7,95.7 351.7,100.8 354.5,106C357.3,111.2 361.2,117.3 364.5,121C367.8,124.7 371.2,128 374.5,128C377.8,128 381.2,124.7 384.5,121C387.8,117.3 391.7,111.2 394.5,106C397.3,100.8 399.3,95.7 401.5,90C403.7,84.3 405.7,78.3 407.5,72C409.3,65.7 411.2,58.2 412.5,52C413.8,45.8 414.8,40.7 415.5,35C416.2,29.3 416.8,20.8 417,18" fill="none" stroke="#fff4e6" stroke-width="2.9" stroke-dasharray="6 11" stroke-opacity="1" stroke-dashoffset="3"/><text transform="translate(298,218) rotate(-90)" font-size="29" text-anchor="middle" fill="#c4222e" stroke="#c4222e" style="stroke-width:0.6px" dy="9.6">9500</text><text transform="translate(391,140) rotate(-50)" font-size="29" text-anchor="middle" fill="#fff4e6" stroke="#fff4e6" style="stroke-width:0.6px" dy="9.6">10400</text><text transform="translate(413.5,294) rotate(-71)" font-size="29" text-anchor="middle" fill="#c23a22" stroke="#c23a22" style="stroke-width:0.6px" dy="9.6">10200</text></g><path d="M94,18.5 H655" stroke="#111" stroke-width="1.3" fill="none"/><path d="M94,426 H655" stroke="#111" stroke-width="1.3" fill="none" stroke-opacity="0.8"/><path d="M94,18.5 V426" stroke="#111" stroke-width="1.2" fill="none" stroke-opacity="0.55"/><path d="M655,18.5 V426" stroke="#111" stroke-width="1.0" fill="none" stroke-opacity="0.3"/><path d="M94,411.9h-6.5M94,383.8h-3.2M94,355.7h-6.5M94,327.6h-3.2M94,299.5h-6.5M94,271.4h-3.2M94,243.3h-6.5M94,215.2h-3.2M94,187.1h-6.5M94,159h-3.2M94,130.9h-6.5M94,102.8h-3.2M94,74.7h-6.5M94,46.6h-3.2M94,18.5h-6.5M94,426v6.5M122,426v3.2M150.1,426v3.2M178.2,426v3.2M206.2,426v3.2M234.2,426v6.5M262.3,426v3.2M290.4,426v3.2M318.4,426v3.2M346.4,426v3.2M374.5,426v6.5M402.6,426v3.2M430.6,426v3.2M458.6,426v3.2M486.7,426v3.2M514.8,426v6.5M542.8,426v3.2M570.9,426v3.2M598.9,426v3.2M627,426v3.2M655,426v6.5" stroke="#333" stroke-width="1.5" fill="none" stroke-opacity="0.8"/><text x="81.5" y="422.5" font-size="35" text-anchor="end" fill="#1a1a1a" stroke="#1a1a1a">-2</text><text x="81.5" y="366.3" font-size="35" text-anchor="end" fill="#1a1a1a" stroke="#1a1a1a">0</text><text x="81.5" y="310.1" font-size="35" text-anchor="end" fill="#1a1a1a" stroke="#1a1a1a">2</text><text x="81.5" y="253.9" font-size="35" text-anchor="end" fill="#1a1a1a" stroke="#1a1a1a">4</text><text x="81.5" y="197.7" font-size="35" text-anchor="end" fill="#1a1a1a" stroke="#1a1a1a">6</text><text x="81.5" y="141.5" font-size="35" text-anchor="end" fill="#1a1a1a" stroke="#1a1a1a">8</text><text x="81.5" y="85.3" font-size="35" text-anchor="end" fill="#1a1a1a" stroke="#1a1a1a">10</text><text x="81.5" y="29.1" font-size="35" text-anchor="end" fill="#1a1a1a" stroke="#1a1a1a">12</text><text x="94" y="467" font-size="35" text-anchor="middle" fill="#1a1a1a" stroke="#1a1a1a">-10</text><text x="234.2" y="467" font-size="35" text-anchor="middle" fill="#1a1a1a" stroke="#1a1a1a">-5</text><text x="374.5" y="467" font-size="35" text-anchor="middle" fill="#1a1a1a" stroke="#1a1a1a">0</text><text x="514.8" y="467" font-size="35" text-anchor="middle" fill="#1a1a1a" stroke="#1a1a1a">5</text><text x="655" y="467" font-size="35" text-anchor="middle" fill="#1a1a1a" stroke="#1a1a1a">10</text><text x="375" y="526" font-size="39.5" text-anchor="middle" fill="#1a1a1a" stroke="#1a1a1a"><tspan font-style="italic">y</tspan> (mm)</text><text transform="translate(30,222.2) rotate(-90)" font-size="38.5" text-anchor="middle" fill="#1a1a1a" stroke="#1a1a1a"><tspan font-style="italic">z</tspan> (mm)</text><text x="99.5" y="343.7" font-size="35" text-anchor="start" fill="#f0f0ff" stroke="#f0f0ff"><tspan font-style="italic">T</tspan><tspan font-size="23.1" dy="10.1" dx="-1.5">h</tspan><tspan dy="-10.1"> (K)</tspan></text><text x="99.5" y="381.5" font-size="35" text-anchor="start" fill="#0a0a0a" stroke="#0a0a0a"><tspan font-style="italic">T</tspan><tspan font-size="23.1" dy="10.1" dx="-1.5">s</tspan><tspan dy="-10.1"> (K)</tspan></text><text x="98" y="423" font-size="35" text-anchor="start" fill="#0a0a0a" stroke="#0a0a0a">Maximum: 420 K</text><text x="652.5" y="64.7" font-size="46" text-anchor="end" fill="#eef0ff" stroke="#eef0ff"><tspan font-size="50">(</tspan><tspan dx="1">a</tspan><tspan font-size="50" dx="1">)</tspan></text><rect x="675.2" y="53.9" width="36.1" height="182.3" fill="url(#gha)" stroke="#1a1a1a" stroke-width="1.3" stroke-opacity="0.9"/><line x1="711.3" y1="92.3" x2="717.3" y2="92.3" stroke="#333" stroke-width="1.5" stroke-opacity="0.85"/><text x="733.5" y="104.1" font-size="35" text-anchor="start" fill="#1a1a1a" stroke="#1a1a1a">10200</text><line x1="711.3" y1="151.2" x2="717.3" y2="151.2" stroke="#333" stroke-width="1.5" stroke-opacity="0.85"/><text x="733.5" y="163" font-size="35" text-anchor="start" fill="#1a1a1a" stroke="#1a1a1a">9700</text><line x1="711.3" y1="209.6" x2="717.3" y2="209.6" stroke="#333" stroke-width="1.5" stroke-opacity="0.85"/><text x="733.5" y="221.4" font-size="35" text-anchor="start" fill="#1a1a1a" stroke="#1a1a1a">9200</text><text x="685" y="40.3" font-size="37" text-anchor="start" fill="#1a1a1a" stroke="#1a1a1a"><tspan font-style="italic">T</tspan><tspan font-size="26.6" dy="10.7" dx="0.5">h</tspan><tspan dy="-10.7"> (K)</tspan></text><rect x="678.2" y="297.6" width="35.7" height="168" fill="url(#gsa)" stroke="#1a1a1a" stroke-width="2" stroke-opacity="0.9"/><line x1="713.9" y1="312" x2="719.9" y2="312" stroke="#333" stroke-width="1.5" stroke-opacity="0.85"/><text x="741" y="328" font-size="35" text-anchor="start" fill="#1a1a1a" stroke="#1a1a1a">410</text><line x1="713.9" y1="370.8" x2="719.9" y2="370.8" stroke="#333" stroke-width="1.5" stroke-opacity="0.85"/><text x="741" y="386.8" font-size="35" text-anchor="start" fill="#1a1a1a" stroke="#1a1a1a">370</text><line x1="713.9" y1="429.2" x2="719.9" y2="429.2" stroke="#333" stroke-width="1.5" stroke-opacity="0.85"/><text x="741" y="445.2" font-size="35" text-anchor="start" fill="#1a1a1a" stroke="#1a1a1a">330</text><text x="678.7" y="273.8" font-size="37" text-anchor="start" fill="#1a1a1a" stroke="#1a1a1a"><tspan font-style="italic">T</tspan><tspan font-size="26.6" dy="10.7" dx="0.5">s</tspan><tspan dy="-10.7"> (K)</tspan></text></g><g><g clip-path="url(#clipbg)"><g filter="url(#cmTh)"><rect x="981.8" y="16" width="564.6" height="339" fill="#000"/><g filter="url(#b9_0)"><path d="M1188.5,17.8C1187.7,22.3 1185.4,36.1 1183.9,44.6C1182.3,53.2 1181.3,60.3 1179.4,69.3C1177.6,78.4 1175,89.1 1172.9,99C1170.7,108.9 1168.5,118.9 1166.6,128.9C1164.7,138.9 1163.1,148.9 1161.6,159C1160.2,169.1 1158.7,180.6 1158.1,189.5C1157.5,198.4 1157.6,205.2 1158,212.4C1158.4,219.7 1159.4,226.2 1160.4,233.1C1161.4,239.9 1162.6,247.1 1164.2,253.6C1165.9,260.1 1168.2,266.1 1170.4,272.1C1172.7,278 1175.1,284 1177.7,289.2C1180.3,294.4 1183.1,298.9 1186,303.3C1189,307.6 1191.9,311.8 1195.3,315.3C1198.8,318.8 1202.3,322 1206.6,324.3C1211,326.6 1215.9,327.8 1221.4,329.2C1226.9,330.5 1233.6,331.5 1239.7,332.4C1245.7,333.3 1252.4,334 1257.8,334.7C1263.2,335.4 1268.4,336.9 1272.1,336.5C1275.9,336.1 1278,334.3 1280.3,332.3C1282.6,330.4 1283.7,326.9 1285.8,324.8C1288,322.8 1290.6,320.2 1293,320.2C1295.4,320.2 1298.1,322.8 1300.2,324.8C1302.3,326.9 1303.6,330.5 1305.6,332.3C1307.6,334 1309.6,335.9 1312.2,335.6C1314.9,335.3 1318.1,332.9 1321.3,330.6C1324.5,328.3 1328,325.1 1331.2,321.9C1334.4,318.6 1337.2,315.3 1340.3,311C1343.4,306.7 1346.5,302.1 1349.7,296.1C1352.9,290.1 1356.3,282.2 1359.3,275.3C1362.3,268.3 1365.2,261.2 1367.6,254.2C1370,247.2 1372.2,240.4 1373.6,233.4C1374.9,226.4 1375.4,219.4 1375.5,212C1375.5,204.6 1374.9,197.9 1373.9,189.1C1372.8,180.2 1371.1,168.8 1369.3,158.8C1367.6,148.7 1365.4,138.7 1363.4,128.8C1361.4,118.8 1359.1,109 1357.1,99.1C1355.2,89.2 1353.4,78.4 1351.6,69.3C1349.7,60.2 1348,53.1 1346.1,44.5C1344.3,35.9 1341.4,22.2 1340.5,17.8L1340.5,-22.2 L1188.5,-22.2 Z" fill="#272727" clip-path="url(#yc3)"/></g><path d="M1192,18.2C1191.5,22.7 1190,36.6 1189,45.2C1188,53.9 1187.3,61.1 1186,70.3C1184.6,79.5 1182.6,90.3 1181,100.3C1179.3,110.3 1177.5,120.3 1176,130.3C1174.5,140.3 1173.2,150.3 1172,160.2C1170.8,170.2 1169.5,181.5 1169,190.1C1168.5,198.7 1168.7,205 1169,211.9C1169.3,218.8 1170.2,225.1 1171,231.8C1171.8,238.4 1172.6,245.3 1174,251.6C1175.3,257.9 1177.1,263.6 1178.9,269.4C1180.7,275.2 1182.7,281.1 1184.8,286.2C1187,291.3 1189.3,295.8 1191.7,300C1194.2,304.2 1196.6,308.3 1199.5,311.7C1202.4,315.1 1205.2,318 1209,320.3C1212.8,322.5 1217.3,323.7 1222.5,325.1C1227.7,326.4 1234.4,327.5 1240.3,328.5C1246.3,329.5 1253,330.3 1258.3,331C1263.5,331.8 1268.6,333.2 1271.8,333C1275,332.8 1275.8,331.5 1277.6,329.6C1279.4,327.7 1280,324 1282.6,321.6C1285.2,319.2 1289.5,315 1293,315C1296.5,315 1300.8,319.1 1303.4,321.6C1306,324 1307.1,327.9 1308.5,329.7C1309.9,331.4 1310,332.4 1311.7,332C1313.4,331.7 1316.1,329.7 1318.7,327.5C1321.4,325.2 1324.7,322 1327.5,318.7C1330.2,315.5 1332.7,312.2 1335.3,308C1337.9,303.7 1340.5,299.1 1343.2,293.2C1345.8,287.3 1348.6,279.3 1351.1,272.3C1353.6,265.4 1356.1,258.2 1358.1,251.4C1360.1,244.7 1362,238.3 1363,231.7C1364.1,225.1 1364.5,218.9 1364.5,212C1364.5,205.1 1363.9,198.8 1363,190.2C1362.1,181.6 1360.5,170.3 1359,160.3C1357.5,150.3 1355.7,140.3 1354,130.3C1352.4,120.3 1350.5,110.3 1349,100.3C1347.5,90.3 1346.4,79.5 1345,70.3C1343.7,61.1 1342.4,54 1341,45.3C1339.7,36.6 1337.7,22.8 1337,18.3L1337,-21.7 L1192,-21.8 Z" fill="#636363" filter="url(#b6_0)"/><path d="M1204,18C1204.4,26.7 1205.8,52.9 1206.6,70.1C1207.5,87.3 1208.7,105.5 1209.2,121.2C1209.7,136.9 1210.2,150.1 1209.8,164.5C1209.4,178.8 1207.6,193.3 1206.7,207.3C1205.9,221.3 1204.6,236.4 1204.6,248.5C1204.6,260.6 1205.2,271.1 1206.6,279.8C1208.1,288.5 1210,294.5 1213.2,300.6C1216.3,306.7 1220,312.4 1225.5,316.2C1231,320 1239,321.4 1246,323.3C1253.1,325.3 1262.2,328.1 1268,328C1273.8,327.9 1276.7,325.2 1280.9,322.8C1285,320.4 1288.9,314.2 1292.9,313.9C1296.9,313.5 1301.5,319.8 1305.1,320.6C1308.7,321.3 1311.6,321.8 1314.5,318.5C1317.5,315.2 1320.7,307.4 1322.6,301C1324.6,294.6 1325.1,288.7 1326.3,279.9C1327.6,271.1 1329.3,260.3 1329.9,248.1C1330.6,236 1330.4,220.9 1330.1,207C1329.7,193.1 1328.7,179 1327.9,164.8C1327,150.5 1325.3,137.4 1324.8,121.7C1324.4,105.9 1324.8,87.5 1325.4,70.2C1325.9,52.9 1327.6,26.7 1328,18L1328,-22 L1204,-22 Z" fill="#8d8d8d" filter="url(#b5_5)"/><g filter="url(#b9_5)"><path d="M1204,18C1203.7,26.7 1202.5,52.8 1202,70C1201.5,87.2 1201.3,105.3 1201,121C1200.7,136.7 1200.7,149.7 1200,164C1199.3,178.3 1197.5,192.8 1197,207C1196.5,221.2 1196.2,236.7 1197,249C1197.8,261.3 1199.7,272.2 1202,281C1204.3,289.8 1207.2,296 1211,302C1214.8,308 1219.2,313.4 1225,317C1230.8,320.6 1238.8,321.7 1246,323.5C1253.2,325.3 1262.2,328.1 1268,328C1273.8,327.9 1276.8,325.2 1281,323C1285.2,320.8 1289,315.3 1293,315C1297,314.7 1301.3,320.3 1305,321C1308.7,321.7 1311.7,322.2 1315,319C1318.3,315.8 1322.3,308.3 1325,302C1327.7,295.7 1328.9,289.8 1331,281C1333.1,272.2 1336,261.3 1337.5,249C1339,236.7 1339.8,221.2 1339.8,207C1339.8,192.8 1338.7,178.3 1337.6,164C1336.5,149.7 1334.3,136.7 1333,121C1331.7,105.3 1330.8,87.2 1330,70C1329.2,52.8 1328.3,26.7 1328,18L1328,-22 L1204,-22 Z" fill="#8d8d8d" clip-path="url(#yc4)"/></g><path d="M1214,18C1214.2,24.2 1214.7,43 1215,55C1215.3,67 1215.2,79.2 1216,90C1216.8,100.8 1218.7,110 1220,120C1221.3,130 1222.8,140 1224,150C1225.2,160 1226,170 1227,180C1228,190 1229.3,200.8 1230,210C1230.7,219.2 1231,226.7 1231,235C1231,243.3 1229.8,251.7 1230,260C1230.2,268.3 1230.3,277.7 1232,285C1233.7,292.3 1236.8,298.5 1240,304C1243.2,309.5 1247.2,314.2 1251,318C1254.8,321.8 1258.8,325.2 1263,327C1267.2,328.8 1271,330.5 1276,329C1281,327.5 1288,318.5 1293,318C1298,317.5 1302.8,326.7 1306,326C1309.2,325.3 1310.5,319.7 1312,314C1313.5,308.3 1315,299.3 1315,292C1315,284.7 1313.3,277.3 1312,270C1310.7,262.7 1308.5,255.5 1307,248C1305.5,240.5 1303.7,232.2 1303,225C1302.3,217.8 1302.5,213.3 1303,205C1303.5,196.7 1305,184.2 1306,175C1307,165.8 1307.8,159.2 1309,150C1310.2,140.8 1312,130 1313,120C1314,110 1314.4,100.8 1315,90C1315.6,79.2 1316.2,67 1316.5,55C1316.8,43 1316.9,24.2 1317,18L1317,-22 L1214,-22 Z" fill="#afafaf" filter="url(#b8_0)"/><path d="M1220,18C1220.5,25 1221.3,46.3 1223,60C1224.7,73.7 1227.3,88 1230,100C1232.7,112 1235.8,122.3 1239,132C1242.2,141.7 1245.8,150 1249,158C1252.2,166 1255.5,173.7 1258,180C1260.5,186.3 1262,196 1264,196C1266,196 1267.5,186.3 1270,180C1272.5,173.7 1276,166 1279,158C1282,150 1285.2,141.7 1288,132C1290.8,122.3 1293.5,112 1296,100C1298.5,88 1300.5,73.7 1303,60C1305.5,46.3 1309.7,25 1311,18L1311,-22 L1220,-22 Z" fill="#bdbdbd" filter="url(#b10_0)"/><path d="M1274,322C1268.8,321.7 1265.7,316.3 1262,312C1258.3,307.7 1254,301.3 1252,296C1250,290.7 1249.7,285.7 1250,280C1250.3,274.3 1251.7,267.3 1254,262C1256.3,256.7 1260.3,251 1264,248C1267.7,245 1271.7,243.7 1276,244C1280.3,244.3 1285.7,246.7 1290,250C1294.3,253.3 1298.3,258.3 1302,264C1305.7,269.7 1309.7,277.3 1312,284C1314.3,290.7 1316,298.3 1316,304C1316,309.7 1315.8,316.3 1312,318C1308.2,319.7 1299.3,313.3 1293,314C1286.7,314.7 1279.2,322.3 1274,322Z" fill="#bebebe" filter="url(#b7_0)"/><path d="M1224,18C1224.2,21.7 1224.3,33 1225,40C1225.7,47 1226.7,53 1228,60C1229.3,67 1231,75.3 1233,82C1235,88.7 1237.2,94 1240,100C1242.8,106 1246,113 1250,118C1254,123 1259.5,130 1264,130C1268.5,130 1273,122.5 1277,118C1281,113.5 1285,109 1288,103C1291,97 1293,89.2 1295,82C1297,74.8 1298.5,67 1300,60C1301.5,53 1302.8,47 1304,40C1305.2,33 1306.5,21.7 1307,18L1307,-22 L1224,-22 Z" fill="#dadada" filter="url(#b6_0)"/><path d="M1276,320C1271.5,319.3 1268.8,315.3 1266,312C1263.2,308.7 1260.5,304 1259,300C1257.5,296 1256.8,292 1257,288C1257.2,284 1258.2,279.3 1260,276C1261.8,272.7 1265,269.5 1268,268C1271,266.5 1274.7,266.3 1278,267C1281.3,267.7 1284.7,269.5 1288,272C1291.3,274.5 1295,278.3 1298,282C1301,285.7 1303.8,289.7 1306,294C1308.2,298.3 1310.7,303.7 1311,308C1311.3,312.3 1311,318.7 1308,320C1305,321.3 1298.3,316 1293,316C1287.7,316 1280.5,320.7 1276,320Z" fill="#dadada" filter="url(#b4_5)"/><path d="M1277.3,354 L1282.4,328.8 Q1284,321 1291.8,321 L1294.2,321 Q1302,321 1303.6,328.8 L1308.7,354 Z" fill="#000" filter="url(#b1_3)"/></g></g><g clip-path="url(#clipbs)"><g filter="url(#cmTs)"><rect x="981.8" y="351" width="564.6" height="73.7" fill="#363636"/><g filter="url(#b1_5)"><rect x="1147.5" y="218" width="291" height="270" rx="135" fill="#363636"/><rect x="1162.5" y="233" width="261" height="240" rx="120" fill="#373737"/><rect x="1177.5" y="248" width="231" height="210" rx="105" fill="#383838"/><rect x="1186.5" y="257" width="213" height="192" rx="96" fill="#3a3a3a"/><rect x="1195.5" y="266" width="195" height="174" rx="87" fill="#3c3c3c"/><rect x="1204.5" y="275" width="177" height="156" rx="78" fill="#3e3e3e"/><rect x="1210.5" y="281" width="165" height="144" rx="72" fill="#404040"/><rect x="1216.5" y="287" width="153" height="132" rx="66" fill="#424242"/><rect x="1222.5" y="293" width="141" height="120" rx="60" fill="#434343"/><rect x="1226.5" y="297" width="133" height="112" rx="56" fill="#454545"/><rect x="1230.5" y="301" width="125" height="104" rx="52" fill="#474747"/><rect x="1234.5" y="305" width="117" height="96" rx="48" fill="#494949"/><rect x="1238.5" y="309" width="109" height="88" rx="44" fill="#4a4a4a"/><rect x="1242.5" y="313" width="101" height="80" rx="40" fill="#4c4c4c"/><rect x="1245.4" y="315.9" width="95.2" height="74.2" rx="37.1" fill="#4e4e4e"/><rect x="1248.2" y="318.8" width="89.5" height="68.5" rx="34.2" fill="#505050"/><rect x="1251.1" y="321.6" width="83.8" height="62.8" rx="31.4" fill="#515151"/><rect x="1254" y="324.5" width="78" height="57" rx="28.5" fill="#535353"/><rect x="1256.1" y="326.6" width="73.8" height="52.8" rx="26.4" fill="#555555"/><rect x="1258.2" y="328.7" width="69.6" height="48.6" rx="24.3" fill="#565656"/><rect x="1260.3" y="330.8" width="65.4" height="44.4" rx="22.2" fill="#585858"/><rect x="1262.4" y="332.9" width="61.2" height="40.2" rx="20.1" fill="#5a5a5a"/><rect x="1264.5" y="335" width="57" height="36" rx="18" fill="#5c5c5c"/><rect x="1265.4" y="335.9" width="55.2" height="34.2" rx="17.1" fill="#5d5d5d"/><rect x="1266.3" y="336.8" width="53.4" height="32.4" rx="16.2" fill="#5f5f5f"/><rect x="1267.2" y="337.7" width="51.7" height="30.7" rx="15.3" fill="#616161"/><rect x="1268.1" y="338.6" width="49.9" height="28.9" rx="14.4" fill="#626262"/><rect x="1268.9" y="339.4" width="48.1" height="27.1" rx="13.6" fill="#646464"/><rect x="1269.8" y="340.3" width="46.3" height="25.3" rx="12.7" fill="#666666"/><rect x="1270.7" y="341.2" width="44.6" height="23.6" rx="11.8" fill="#686868"/><rect x="1271.6" y="342.1" width="42.8" height="21.8" rx="10.9" fill="#696969"/><rect x="1272.5" y="343" width="41" height="20" rx="10" fill="#6b6b6b"/><rect x="1273" y="343.5" width="40" height="19" rx="9.5" fill="#6d6d6d"/><rect x="1273.5" y="344" width="39" height="18" rx="9" fill="#6f6f6f"/><rect x="1274" y="344.5" width="38" height="17" rx="8.5" fill="#707070"/><rect x="1274.5" y="345" width="37" height="16" rx="8" fill="#727272"/><rect x="1275" y="345.5" width="36" height="15" rx="7.5" fill="#747474"/><rect x="1275.5" y="346" width="35" height="14" rx="7" fill="#767676"/><rect x="1276" y="346.5" width="34" height="13" rx="6.5" fill="#777777"/><rect x="1276.5" y="347" width="33" height="12" rx="6" fill="#797979"/><rect x="1277" y="347.5" width="32" height="11" rx="5.5" fill="#7b7b7b"/><rect x="1277.2" y="347.7" width="31.5" height="10.5" rx="5.3" fill="#7c7c7c"/><rect x="1277.5" y="348" width="31.1" height="10.1" rx="5" fill="#7e7e7e"/><rect x="1277.7" y="348.2" width="30.6" height="9.6" rx="4.8" fill="#808080"/><rect x="1277.9" y="348.4" width="30.2" height="9.2" rx="4.6" fill="#828282"/><rect x="1278.2" y="348.6" width="29.7" height="8.7" rx="4.3" fill="#848484"/><rect x="1278.4" y="348.9" width="29.2" height="8.2" rx="4.1" fill="#858585"/><rect x="1278.6" y="349.1" width="28.8" height="7.8" rx="3.9" fill="#878787"/><rect x="1278.8" y="349.3" width="28.3" height="7.3" rx="3.7" fill="#898989"/><rect x="1279.1" y="349.6" width="27.9" height="6.9" rx="3.4" fill="#8b8b8b"/><rect x="1279.3" y="349.8" width="27.4" height="6.4" rx="3.2" fill="#8c8c8c"/><rect x="1279.6" y="350.1" width="26.7" height="5.7" rx="2.9" fill="#8e8e8e"/><rect x="1280" y="350.5" width="26" height="5" rx="2.5" fill="#909090"/><rect x="1280.3" y="350.8" width="25.4" height="4.4" rx="2.2" fill="#929292"/><rect x="1280.7" y="351.2" width="24.7" height="3.7" rx="1.8" fill="#949494"/><rect x="1281" y="351.5" width="24" height="3" rx="1.5" fill="#969696"/><rect x="1281.3" y="351.8" width="23.4" height="2.4" rx="1.2" fill="#979797"/><rect x="1281.6" y="352.1" width="22.8" height="1.8" rx="0.9" fill="#999999"/><rect x="1281.9" y="352.4" width="22.2" height="1.2" rx="0.6" fill="#9b9b9b"/></g></g></g><g clip-path="url(#clipb)"><path d="M1190,18C1189.5,22.5 1188,36.3 1187,45C1186,53.7 1185.3,60.8 1184,70C1182.7,79.2 1180.7,90 1179,100C1177.3,110 1175.5,120 1174,130C1172.5,140 1171.2,150 1170,160C1168.8,170 1167.5,181.3 1167,190C1166.5,198.7 1166.7,205 1167,212C1167.3,219 1168.2,225.3 1169,232C1169.8,238.7 1170.7,245.7 1172,252C1173.3,258.3 1175.2,264.2 1177,270C1178.8,275.8 1180.8,281.8 1183,287C1185.2,292.2 1187.5,296.7 1190,301C1192.5,305.3 1195,309.5 1198,313C1201,316.5 1204,319.7 1208,322C1212,324.3 1216.7,325.6 1222,327C1227.3,328.4 1234,329.5 1240,330.5C1246,331.5 1252.7,332.2 1258,333C1263.3,333.8 1269.7,334.7 1272,335" fill="none" stroke="#8e1f2e" stroke-width="3.0" stroke-dasharray="8 9" stroke-opacity="1" stroke-dashoffset="3"/><path d="M1312,334C1313.3,333.2 1317.2,331.3 1320,329C1322.8,326.7 1326.2,323.3 1329,320C1331.8,316.7 1334.3,313.3 1337,309C1339.7,304.7 1342.3,300 1345,294C1347.7,288 1350.5,280 1353,273C1355.5,266 1358,258.8 1360,252C1362,245.2 1363.9,238.7 1365,232C1366.1,225.3 1366.5,219 1366.5,212C1366.5,205 1365.9,198.7 1365,190C1364.1,181.3 1362.5,170 1361,160C1359.5,150 1357.7,140 1356,130C1354.3,120 1352.5,110 1351,100C1349.5,90 1348.3,79.2 1347,70C1345.7,60.8 1344.3,53.7 1343,45C1341.7,36.3 1339.7,22.5 1339,18" fill="none" stroke="#8e1f2e" stroke-width="3.0" stroke-dasharray="8 9" stroke-opacity="1" stroke-dashoffset="3"/><path d="M1214,18C1214.2,24.2 1214.7,43 1215,55C1215.3,67 1215.2,79.2 1216,90C1216.8,100.8 1218.7,110 1220,120C1221.3,130 1222.8,140 1224,150C1225.2,160 1226,170 1227,180C1228,190 1229.3,200.8 1230,210C1230.7,219.2 1231,226.7 1231,235C1231,243.3 1229.8,251.7 1230,260C1230.2,268.3 1230.3,277.7 1232,285C1233.7,292.3 1236.8,298.5 1240,304C1243.2,309.5 1247.2,314.2 1251,318C1254.8,321.8 1258.8,325.2 1263,327C1267.2,328.8 1273.8,328.7 1276,329" fill="none" stroke="#fff4e6" stroke-width="2.9" stroke-dasharray="6 11" stroke-opacity="1" stroke-dashoffset="3"/><path d="M1312,314C1312.5,310.3 1315,299.3 1315,292C1315,284.7 1313.3,277.3 1312,270C1310.7,262.7 1308.5,255.5 1307,248C1305.5,240.5 1303.7,232.2 1303,225C1302.3,217.8 1302.5,213.3 1303,205C1303.5,196.7 1305,184.2 1306,175C1307,165.8 1307.8,159.2 1309,150C1310.2,140.8 1312,130 1313,120C1314,110 1314.4,100.8 1315,90C1315.6,79.2 1316.2,67 1316.5,55C1316.8,43 1316.9,24.2 1317,18" fill="none" stroke="#fff4e6" stroke-width="2.9" stroke-dasharray="6 11" stroke-opacity="1" stroke-dashoffset="3"/><path d="M1224,18C1224.2,21.7 1224.3,33 1225,40C1225.7,47 1226.7,53 1228,60C1229.3,67 1231,75.3 1233,82C1235,88.7 1237.2,94 1240,100C1242.8,106 1246,113 1250,118C1254,123 1259.5,130 1264,130C1268.5,130 1273,122.5 1277,118C1281,113.5 1285,109 1288,103C1291,97 1293,89.2 1295,82C1297,74.8 1298.5,67 1300,60C1301.5,53 1302.8,47 1304,40C1305.2,33 1306.5,21.7 1307,18" fill="none" stroke="#fff4e6" stroke-width="2.9" stroke-dasharray="6 11" stroke-opacity="1" stroke-dashoffset="3"/><path d="M1276,320C1274.3,318.7 1268.8,315.3 1266,312C1263.2,308.7 1260.5,304 1259,300C1257.5,296 1256.8,292 1257,288C1257.2,284 1258.2,279.3 1260,276C1261.8,272.7 1265,269.5 1268,268C1271,266.5 1274.7,266.3 1278,267C1281.3,267.7 1284.7,269.5 1288,272C1291.3,274.5 1295,278.3 1298,282C1301,285.7 1303.8,289.7 1306,294C1308.2,298.3 1310.7,303.7 1311,308C1311.3,312.3 1308.5,318 1308,320" fill="none" stroke="#fff4e6" stroke-width="2.9" stroke-dasharray="6 11" stroke-opacity="1" stroke-dashoffset="3"/><text transform="translate(1187.5,173) rotate(-78)" font-size="29" text-anchor="middle" fill="#c4222e" stroke="#c4222e" style="stroke-width:0.6px" dy="9.6">9500</text><text transform="translate(1249,180) rotate(90)" font-size="29" text-anchor="middle" fill="#fff4e6" stroke="#fff4e6" style="stroke-width:0.6px" dy="9.6">10200</text><text transform="translate(1282.5,70) rotate(-67)" font-size="29" text-anchor="middle" fill="#fff4e6" stroke="#fff4e6" style="stroke-width:0.6px" dy="9.6">10400</text><text transform="translate(1271,256) rotate(0)" font-size="29" text-anchor="middle" fill="#fff4e6" stroke="#fff4e6" style="stroke-width:0.6px" dy="9.6">10400</text><path d="M1280.3,354 L1285.7,330 Q1287,324 1293,324 L1293,324 Q1299,324 1300.3,330 L1305.7,354 Z" fill="url(#bgb)" filter="url(#b0_9)"/></g><path d="M983.8,18 H1544.4" stroke="#111" stroke-width="1.3" fill="none"/><path d="M983.8,422.7 H1544.4" stroke="#111" stroke-width="1.3" fill="none" stroke-opacity="0.8"/><path d="M983.8,18 V422.7" stroke="#111" stroke-width="1.2" fill="none" stroke-opacity="0.55"/><path d="M1544.4,18 V422.7" stroke="#111" stroke-width="1.0" fill="none" stroke-opacity="0.3"/><path d="M983.8,408.8h-6.5M983.8,380.9h-3.2M983.8,353h-6.5M983.8,325.1h-3.2M983.8,297.2h-6.5M983.8,269.2h-3.2M983.8,241.3h-6.5M983.8,213.4h-3.2M983.8,185.5h-6.5M983.8,157.6h-3.2M983.8,129.7h-6.5M983.8,101.8h-3.2M983.8,73.8h-6.5M983.8,45.9h-3.2M983.8,18h-6.5M983.8,422.7v6.5M1011.8,422.7v3.2M1039.9,422.7v3.2M1067.9,422.7v3.2M1095.9,422.7v3.2M1123.9,422.7v6.5M1152,422.7v3.2M1180,422.7v3.2M1208,422.7v3.2M1236.1,422.7v3.2M1264.1,422.7v6.5M1292.1,422.7v3.2M1320.2,422.7v3.2M1348.2,422.7v3.2M1376.2,422.7v3.2M1404.2,422.7v6.5M1432.3,422.7v3.2M1460.3,422.7v3.2M1488.3,422.7v3.2M1516.4,422.7v3.2M1544.4,422.7v6.5" stroke="#333" stroke-width="1.5" fill="none" stroke-opacity="0.8"/><text x="971.3" y="419.4" font-size="35" text-anchor="end" fill="#1a1a1a" stroke="#1a1a1a">-2</text><text x="971.3" y="363.6" font-size="35" text-anchor="end" fill="#1a1a1a" stroke="#1a1a1a">0</text><text x="971.3" y="307.8" font-size="35" text-anchor="end" fill="#1a1a1a" stroke="#1a1a1a">2</text><text x="971.3" y="251.9" font-size="35" text-anchor="end" fill="#1a1a1a" stroke="#1a1a1a">4</text><text x="971.3" y="196.1" font-size="35" text-anchor="end" fill="#1a1a1a" stroke="#1a1a1a">6</text><text x="971.3" y="140.3" font-size="35" text-anchor="end" fill="#1a1a1a" stroke="#1a1a1a">8</text><text x="971.3" y="84.4" font-size="35" text-anchor="end" fill="#1a1a1a" stroke="#1a1a1a">10</text><text x="971.3" y="28.6" font-size="35" text-anchor="end" fill="#1a1a1a" stroke="#1a1a1a">12</text><text x="983.8" y="463.7" font-size="35" text-anchor="middle" fill="#1a1a1a" stroke="#1a1a1a">-10</text><text x="1123.9" y="463.7" font-size="35" text-anchor="middle" fill="#1a1a1a" stroke="#1a1a1a">-5</text><text x="1264.1" y="463.7" font-size="35" text-anchor="middle" fill="#1a1a1a" stroke="#1a1a1a">0</text><text x="1404.2" y="463.7" font-size="35" text-anchor="middle" fill="#1a1a1a" stroke="#1a1a1a">5</text><text x="1544.4" y="463.7" font-size="35" text-anchor="middle" fill="#1a1a1a" stroke="#1a1a1a">10</text><text x="1264.6" y="522.7" font-size="39.5" text-anchor="middle" fill="#1a1a1a" stroke="#1a1a1a"><tspan font-style="italic">y</tspan> (mm)</text><text transform="translate(919.8,220.3) rotate(-90)" font-size="38.5" text-anchor="middle" fill="#1a1a1a" stroke="#1a1a1a"><tspan font-style="italic">z</tspan> (mm)</text><text x="988.9" y="341" font-size="35" text-anchor="start" fill="#f0f0ff" stroke="#f0f0ff"><tspan font-style="italic">T</tspan><tspan font-size="23.1" dy="10.1" dx="-1.5">h</tspan><tspan dy="-10.1"> (K)</tspan></text><text x="988.9" y="378" font-size="35" text-anchor="start" fill="#0a0a0a" stroke="#0a0a0a"><tspan font-style="italic">T</tspan><tspan font-size="23.1" dy="10.1" dx="-1.5">s</tspan><tspan dy="-10.1"> (K)</tspan></text><text x="987.9" y="418.5" font-size="35" text-anchor="start" fill="#0a0a0a" stroke="#0a0a0a">Maximum: 1520 K</text><text x="1541.9" y="64.2" font-size="46" text-anchor="end" fill="#eef0ff" stroke="#eef0ff"><tspan font-size="50">(</tspan><tspan dx="1">b</tspan><tspan font-size="50" dx="1">)</tspan></text><rect x="1567.6" y="54" width="36.4" height="172" fill="url(#ghb)" stroke="#1a1a1a" stroke-width="1.3" stroke-opacity="0.9"/><line x1="1604" y1="87.6" x2="1610" y2="87.6" stroke="#333" stroke-width="1.5" stroke-opacity="0.85"/><text x="1625.5" y="99.4" font-size="35" text-anchor="start" fill="#1a1a1a" stroke="#1a1a1a">10200</text><line x1="1604" y1="145" x2="1610" y2="145" stroke="#333" stroke-width="1.5" stroke-opacity="0.85"/><text x="1625.5" y="156.8" font-size="35" text-anchor="start" fill="#1a1a1a" stroke="#1a1a1a">9700</text><line x1="1604" y1="202.4" x2="1610" y2="202.4" stroke="#333" stroke-width="1.5" stroke-opacity="0.85"/><text x="1625.5" y="214.2" font-size="35" text-anchor="start" fill="#1a1a1a" stroke="#1a1a1a">9200</text><text x="1566.7" y="39.8" font-size="37" text-anchor="start" fill="#1a1a1a" stroke="#1a1a1a"><tspan font-style="italic">T</tspan><tspan font-size="26.6" dy="10.7" dx="0.5">h</tspan><tspan dy="-10.7"> (K)</tspan></text><rect x="1570" y="294.6" width="35.6" height="162.8" fill="url(#gsb)" stroke="#1a1a1a" stroke-width="2" stroke-opacity="0.9"/><line x1="1605.6" y1="297.4" x2="1611.6" y2="297.4" stroke="#333" stroke-width="1.5" stroke-opacity="0.85"/><text x="1626.8" y="308.7" font-size="33.5" text-anchor="start" fill="#1a1a1a" stroke="#1a1a1a">1450</text><line x1="1605.6" y1="345" x2="1611.6" y2="345" stroke="#333" stroke-width="1.5" stroke-opacity="0.85"/><text x="1626.8" y="356.3" font-size="33.5" text-anchor="start" fill="#1a1a1a" stroke="#1a1a1a">1150</text><line x1="1605.6" y1="391.5" x2="1611.6" y2="391.5" stroke="#333" stroke-width="1.5" stroke-opacity="0.85"/><text x="1626.8" y="402.8" font-size="33.5" text-anchor="start" fill="#1a1a1a" stroke="#1a1a1a">850</text><line x1="1605.6" y1="438" x2="1611.6" y2="438" stroke="#333" stroke-width="1.5" stroke-opacity="0.85"/><text x="1626.8" y="449.3" font-size="33.5" text-anchor="start" fill="#1a1a1a" stroke="#1a1a1a">550</text><text x="1565.7" y="270.8" font-size="37" text-anchor="start" fill="#1a1a1a" stroke="#1a1a1a"><tspan font-style="italic">T</tspan><tspan font-size="26.6" dy="10.7" dx="0.5">s</tspan><tspan dy="-10.7"> (K)</tspan></text></g><g><g clip-path="url(#clipcg)"><g filter="url(#cmTh)"><rect x="93" y="608" width="563" height="338" fill="#000"/><g filter="url(#b9_0)"><path d="M298.5,609.8C297.6,613.9 294.8,626.3 293,634.5C291.2,642.8 289.7,650.1 287.6,659.2C285.4,668.3 282.3,678.9 280,688.9C277.7,698.9 275.6,708.9 273.7,718.9C271.8,728.9 270.1,739 268.7,749C267.3,759.1 265.9,770 265.1,779.4C264.3,788.7 264,797.2 264,805C264.1,812.8 264.5,818.9 265.4,825.9C266.3,832.8 267.8,840.5 269.3,846.5C270.8,852.6 272.4,856.7 274.2,862C276.1,867.2 278.2,873 280.4,878C282.7,883.1 285.1,887.8 287.7,892.2C290.3,896.5 292.9,900.7 296,904.3C299.1,907.9 302.1,911 306.4,913.5C310.6,916 315.1,918.2 321.5,919.4C327.9,920.6 337.7,920.5 344.9,920.8C352.1,921.1 358.8,921.1 364.9,921.2C371.1,921.4 376,921.1 381.8,921.7C387.5,922.3 394.4,923.7 399.6,924.8C404.8,926 409.5,928.6 413,928.5C416.5,928.4 418.4,926.2 420.4,924.2C422.4,922.2 423.3,918.7 425,916.7C426.7,914.7 428.7,912.1 430.5,912.2C432.3,912.2 434.3,915 436.1,916.8C437.9,918.6 439,922.3 441.2,922.9C443.3,923.5 446.7,922.6 448.8,920.3C451,918 452.4,912.8 454.1,909.1C455.8,905.4 457.3,902.8 459.1,898.2C460.8,893.5 462.5,888.2 464.5,881.2C466.5,874.2 469.2,864.6 471.2,856.3C473.2,848 475,839.7 476.4,831.2C477.9,822.7 479.6,814 480,805.4C480.4,796.7 479.7,788.7 478.9,779.4C478.1,770 476.7,759.1 475.3,749C473.9,739 472.1,729 470.3,719C468.6,709 466.9,699.1 465,689.2C463.2,679.3 461.1,668.5 459.5,659.4C457.8,650.3 456.5,642.9 455,634.6C453.5,626.4 451.2,614 450.5,609.8L450.5,569.8 L298.5,569.8 Z" fill="#272727" clip-path="url(#yc5)"/></g><path d="M302,610.3C301.3,614.5 299.3,627 298,635.3C296.6,643.7 295.6,651.2 294,660.4C292.3,669.5 289.8,680.4 288,690.4C286.1,700.4 284.5,710.3 283,720.3C281.5,730.3 280.2,740.3 279,750.2C277.8,760.2 276.7,771 276,780.1C275.3,789.3 275,797.6 275,805C275,812.4 275.3,818.2 276,824.8C276.7,831.4 277.8,838.8 279,844.6C280.1,850.4 281.4,854.3 282.9,859.4C284.4,864.6 286.1,870.4 287.9,875.3C289.7,880.3 291.7,884.9 293.8,889.1C295.9,893.4 298,897.4 300.6,900.8C303.1,904.2 305.5,906.9 309.1,909.3C312.7,911.7 316.4,913.8 322.4,915C328.4,916.2 338,916.2 345.1,916.5C352.2,916.8 358.9,916.8 365.1,917C371.2,917.2 376.3,916.8 382.2,917.5C388.1,918.2 395.3,919.8 400.5,921.1C405.6,922.3 410.2,924.9 413,925C415.8,925.1 416.1,923.6 417.5,921.7C418.9,919.8 419.3,916.2 421.5,913.7C423.6,911.3 427.5,907 430.5,907C433.5,907 437.4,911.6 439.4,913.6C441.5,915.6 441.8,918.5 442.8,919.2C443.8,919.9 444.3,919.8 445.4,917.9C446.4,915.9 447.8,910.9 449.1,907.3C450.4,903.7 451.8,901.1 453.1,896.5C454.4,891.8 455.6,886.5 457,879.6C458.5,872.6 460.5,863 462,854.6C463.5,846.3 464.9,838 466,829.7C467.2,821.4 468.7,813.2 469,804.9C469.3,796.7 468.7,789.3 468,780.1C467.3,771 466.2,760.2 465,750.2C463.8,740.3 462.4,730.3 461,720.3C459.7,710.3 458.4,700.3 457,690.3C455.7,680.3 454.2,669.4 453,660.3C451.8,651.1 451,643.6 450,635.2C449,626.9 447.5,614.4 447,610.2L447,570.2 L302,570.3 Z" fill="#636363" filter="url(#b6_0)"/><path d="M314,610C314.4,618.4 315.6,643.2 316.5,660.1C317.3,677 318.9,695.6 319.1,711.3C319.3,727.1 318.3,740.3 317.7,754.6C317.2,768.9 316.4,783.2 315.8,797.2C315.1,811.2 313.9,826.5 313.7,838.6C313.6,850.7 313.6,861 314.9,869.8C316.1,878.6 317.8,885.4 321.2,891.5C324.6,897.5 328.6,902.7 335.4,906C342.3,909.2 353.8,909.9 362.1,910.9C370.3,911.9 377.9,911 385.1,912C392.2,913 399.2,916.3 405,917C410.8,917.7 415.8,917.7 420,915.9C424.2,914 426.9,907 430.2,905.9C433.5,904.8 437.9,909.8 439.8,909.2C441.6,908.7 441,909.2 441.4,902.7C441.9,896.2 442.5,881.1 442.6,870.5C442.7,859.8 442.5,851 442.1,838.8C441.6,826.6 440.7,811.2 440,797.3C439.3,783.3 439.1,769.2 437.9,755C436.7,740.7 433.5,727.5 433,711.7C432.4,695.9 433.7,677.1 434.5,660.1C435.4,643.2 437.4,618.4 438,610L438,570 L314,570 Z" fill="#8d8d8d" filter="url(#b5_5)"/><g filter="url(#b9_5)"><path d="M314,610C313.7,618.3 312.5,643.2 312,660C311.5,676.8 311.7,695.3 311,711C310.3,726.7 308.8,739.7 308,754C307.2,768.3 306.3,782.8 306,797C305.7,811.2 305.3,826.7 306,839C306.7,851.3 307.8,862 310,871C312.2,880 314.8,887 319,893C323.2,899 327.8,903.9 335,907C342.2,910.1 353.7,910.6 362,911.5C370.3,912.4 377.8,911.6 385,912.5C392.2,913.4 399.2,916.4 405,917C410.8,917.6 415.8,917.7 420,916C424.2,914.3 427.2,908 430.5,907C433.8,906 437.9,910.7 440,910C442.1,909.3 441.7,909.5 443,903C444.3,896.5 446.5,881.7 447.6,871C448.7,860.3 449.4,851.3 449.8,839C450.2,826.7 450.2,811.2 449.8,797C449.4,782.8 449.1,768.3 447.6,754C446.1,739.7 442.4,726.7 441,711C439.6,695.3 439.5,676.8 439,660C438.5,643.2 438.2,618.3 438,610L438,570 L314,570 Z" fill="#8d8d8d" clip-path="url(#yc6)"/></g><path d="M323,610C323.2,615.8 323.5,633.3 324,645C324.5,656.7 325,669.2 326,680C327,690.8 328.7,700 330,710C331.3,720 332.7,730 334,740C335.3,750 336.8,760 338,770C339.2,780 340.2,790.8 341,800C341.8,809.2 342.5,816.7 343,825C343.5,833.3 343,842.8 344,850C345,857.2 346.7,862.2 349,868C351.3,873.8 354.2,880.5 358,885C361.8,889.5 366.7,892 372,895C377.3,898 384.5,900.3 390,903C395.5,905.7 400,909.3 405,911C410,912.7 415.8,913.7 420,913C424.2,912.3 427.3,908.3 430.5,907C433.7,905.7 438.1,906.8 439,905C439.9,903.2 437.8,899.2 436,896C434.2,892.8 430.7,890 428,886C425.3,882 422.5,877.5 420,872C417.5,866.5 414.8,860 413,853C411.2,846 410,838.8 409,830C408,821.2 406.8,810.8 407,800C407.2,789.2 408.7,775.8 410,765C411.3,754.2 413.5,744.2 415,735C416.5,725.8 417.7,719.2 419,710C420.3,700.8 421.9,690.8 423,680C424.1,669.2 424.8,656.7 425.5,645C426.2,633.3 426.8,615.8 427,610L427,570 L323,570 Z" fill="#ababab" filter="url(#b8_0)"/><path d="M330,610C330.5,616.7 331.3,636.7 333,650C334.7,663.3 337.3,678 340,690C342.7,702 345.8,712.3 349,722C352.2,731.7 355.8,740 359,748C362.2,756 365.3,763.3 368,770C370.7,776.7 372.7,788 375,788C377.3,788 379.5,776.7 382,770C384.5,763.3 387.2,756 390,748C392.8,740 396.2,731.7 399,722C401.8,712.3 404.5,702 407,690C409.5,678 411.7,663.3 414,650C416.3,636.7 419.8,616.7 421,610L421,570 L330,570 Z" fill="#bdbdbd" filter="url(#b10_0)"/><path d="M406,905C402.7,902.3 401.7,899.5 400,896C398.3,892.5 396.3,888 396,884C395.7,880 396.3,875 398,872C399.7,869 402.7,866.7 406,866C409.3,865.3 414,866 418,868C422,870 426.7,874.3 430,878C433.3,881.7 436,886 438,890C440,894 442,898.7 442,902C442,905.3 439.9,909.2 438,910C436.1,910.8 433.5,906.7 430.5,907C427.5,907.3 424.1,912.3 420,912C415.9,911.7 409.3,907.7 406,905Z" fill="#b9b9b9" filter="url(#b6_0)"/><path d="M334,610C334.3,613.3 335.2,623.3 336,630C336.8,636.7 337.5,643 339,650C340.5,657 342.8,665.3 345,672C347.2,678.7 349.2,684 352,690C354.8,696 358.2,702.7 362,708C365.8,713.3 370.8,722 375,722C379.2,722 383.2,713.3 387,708C390.8,702.7 395,696 398,690C401,684 403,678.7 405,672C407,665.3 408.5,657 410,650C411.5,643 412.8,636.7 414,630C415.2,623.3 416.5,613.3 417,610L417,570 L334,570 Z" fill="#dadada" filter="url(#b6_0)"/><path d="M410,903C409.5,900.3 409.8,897.3 411,895C412.2,892.7 414.5,890.2 417,889C419.5,887.8 423.2,887.3 426,888C428.8,888.7 432,890.7 434,893C436,895.3 437.7,899.2 438,902C438.3,904.8 437.2,909 436,910C434.8,911 432.8,907.5 430.5,908C428.2,908.5 424.8,912.5 422,913C419.2,913.5 416,912.7 414,911C412,909.3 410.5,905.7 410,903Z" fill="#d7d7d7" filter="url(#b3_0)"/><path d="M414.8,945 L419.9,920.3 Q421.5,912.5 429.3,912.5 L431.7,912.5 Q439.5,912.5 441.1,920.3 L446.2,945 Z" fill="#000" filter="url(#b1_3)"/></g></g><g clip-path="url(#clipcs)"><g filter="url(#cmTs)"><rect x="93" y="942" width="563" height="73" fill="#363636"/><g filter="url(#b1_5)"><rect x="285" y="809" width="291" height="270" rx="135" fill="#363636"/><rect x="300" y="824" width="261" height="240" rx="120" fill="#373737"/><rect x="315" y="839" width="231" height="210" rx="105" fill="#383838"/><rect x="324" y="848" width="213" height="192" rx="96" fill="#3a3a3a"/><rect x="333" y="857" width="195" height="174" rx="87" fill="#3c3c3c"/><rect x="342" y="866" width="177" height="156" rx="78" fill="#3e3e3e"/><rect x="348" y="872" width="165" height="144" rx="72" fill="#404040"/><rect x="354" y="878" width="153" height="132" rx="66" fill="#424242"/><rect x="360" y="884" width="141" height="120" rx="60" fill="#434343"/><rect x="364" y="888" width="133" height="112" rx="56" fill="#454545"/><rect x="368" y="892" width="125" height="104" rx="52" fill="#474747"/><rect x="372" y="896" width="117" height="96" rx="48" fill="#494949"/><rect x="376" y="900" width="109" height="88" rx="44" fill="#4a4a4a"/><rect x="380" y="904" width="101" height="80" rx="40" fill="#4c4c4c"/><rect x="382.9" y="906.9" width="95.2" height="74.2" rx="37.1" fill="#4e4e4e"/><rect x="385.8" y="909.8" width="89.5" height="68.5" rx="34.2" fill="#505050"/><rect x="388.6" y="912.6" width="83.8" height="62.8" rx="31.4" fill="#515151"/><rect x="391.5" y="915.5" width="78" height="57" rx="28.5" fill="#535353"/><rect x="393.6" y="917.6" width="73.8" height="52.8" rx="26.4" fill="#555555"/><rect x="395.7" y="919.7" width="69.6" height="48.6" rx="24.3" fill="#565656"/><rect x="397.8" y="921.8" width="65.4" height="44.4" rx="22.2" fill="#585858"/><rect x="399.9" y="923.9" width="61.2" height="40.2" rx="20.1" fill="#5a5a5a"/><rect x="402" y="926" width="57" height="36" rx="18" fill="#5c5c5c"/><rect x="402.9" y="926.9" width="55.2" height="34.2" rx="17.1" fill="#5d5d5d"/><rect x="403.8" y="927.8" width="53.4" height="32.4" rx="16.2" fill="#5f5f5f"/><rect x="404.7" y="928.7" width="51.7" height="30.7" rx="15.3" fill="#616161"/><rect x="405.6" y="929.6" width="49.9" height="28.9" rx="14.4" fill="#626262"/><rect x="406.4" y="930.4" width="48.1" height="27.1" rx="13.6" fill="#646464"/><rect x="407.3" y="931.3" width="46.3" height="25.3" rx="12.7" fill="#666666"/><rect x="408.2" y="932.2" width="44.6" height="23.6" rx="11.8" fill="#686868"/><rect x="409.1" y="933.1" width="42.8" height="21.8" rx="10.9" fill="#696969"/><rect x="410" y="934" width="41" height="20" rx="10" fill="#6b6b6b"/><rect x="410.5" y="934.5" width="40" height="19" rx="9.5" fill="#6d6d6d"/><rect x="411" y="935" width="39" height="18" rx="9" fill="#6f6f6f"/><rect x="411.5" y="935.5" width="38" height="17" rx="8.5" fill="#707070"/><rect x="412" y="936" width="37" height="16" rx="8" fill="#727272"/><rect x="412.5" y="936.5" width="36" height="15" rx="7.5" fill="#747474"/><rect x="413" y="937" width="35" height="14" rx="7" fill="#767676"/><rect x="413.5" y="937.5" width="34" height="13" rx="6.5" fill="#777777"/><rect x="414" y="938" width="33" height="12" rx="6" fill="#797979"/><rect x="414.5" y="938.5" width="32" height="11" rx="5.5" fill="#7b7b7b"/><rect x="414.7" y="938.7" width="31.5" height="10.5" rx="5.3" fill="#7c7c7c"/><rect x="415" y="939" width="31.1" height="10.1" rx="5" fill="#7e7e7e"/><rect x="415.2" y="939.2" width="30.6" height="9.6" rx="4.8" fill="#808080"/><rect x="415.4" y="939.4" width="30.2" height="9.2" rx="4.6" fill="#828282"/><rect x="415.6" y="939.6" width="29.7" height="8.7" rx="4.3" fill="#848484"/><rect x="415.9" y="939.9" width="29.2" height="8.2" rx="4.1" fill="#858585"/><rect x="416.1" y="940.1" width="28.8" height="7.8" rx="3.9" fill="#878787"/><rect x="416.3" y="940.3" width="28.3" height="7.3" rx="3.7" fill="#898989"/><rect x="416.6" y="940.6" width="27.9" height="6.9" rx="3.4" fill="#8b8b8b"/><rect x="416.8" y="940.8" width="27.4" height="6.4" rx="3.2" fill="#8c8c8c"/><rect x="417.1" y="941.1" width="26.7" height="5.7" rx="2.9" fill="#8e8e8e"/><rect x="417.5" y="941.5" width="26" height="5" rx="2.5" fill="#909090"/><rect x="417.8" y="941.8" width="25.4" height="4.4" rx="2.2" fill="#929292"/><rect x="418.2" y="942.2" width="24.7" height="3.7" rx="1.8" fill="#949494"/><rect x="418.5" y="942.5" width="24" height="3" rx="1.5" fill="#969696"/><rect x="418.8" y="942.8" width="23.4" height="2.4" rx="1.2" fill="#979797"/><rect x="419.1" y="943.1" width="22.8" height="1.8" rx="0.9" fill="#999999"/><rect x="419.4" y="943.4" width="22.2" height="1.2" rx="0.6" fill="#9b9b9b"/></g></g></g><g clip-path="url(#clipc)"><path d="M300,610C299.3,614.2 297.3,626.7 296,635C294.7,643.3 293.7,650.8 292,660C290.3,669.2 287.8,680 286,690C284.2,700 282.5,710 281,720C279.5,730 278.2,740 277,750C275.8,760 274.7,770.8 274,780C273.3,789.2 273,797.5 273,805C273,812.5 273.3,818.3 274,825C274.7,831.7 275.8,839.2 277,845C278.2,850.8 279.5,854.8 281,860C282.5,865.2 284.2,871 286,876C287.8,881 289.8,885.7 292,890C294.2,894.3 296.3,898.5 299,902C301.7,905.5 304.2,908.5 308,911C311.8,913.5 315.8,915.8 322,917C328.2,918.2 337.8,918.2 345,918.5C352.2,918.8 358.8,918.8 365,919C371.2,919.2 376.2,918.8 382,919.5C387.8,920.2 394.8,921.8 400,923C405.2,924.2 410.8,926.3 413,927" fill="none" stroke="#8e1f2e" stroke-width="3.0" stroke-dasharray="8 9" stroke-opacity="1" stroke-dashoffset="3"/><path d="M447,919C447.7,917.2 449.7,911.7 451,908C452.3,904.3 453.7,901.7 455,897C456.3,892.3 457.5,887 459,880C460.5,873 462.5,863.3 464,855C465.5,846.7 466.8,838.3 468,830C469.2,821.7 470.7,813.3 471,805C471.3,796.7 470.7,789.2 470,780C469.3,770.8 468.2,760 467,750C465.8,740 464.3,730 463,720C461.7,710 460.3,700 459,690C457.7,680 456.2,669.2 455,660C453.8,650.8 453,643.3 452,635C451,626.7 449.5,614.2 449,610" fill="none" stroke="#8e1f2e" stroke-width="3.0" stroke-dasharray="8 9" stroke-opacity="1" stroke-dashoffset="3"/><path d="M323,610C323.2,615.8 323.5,633.3 324,645C324.5,656.7 325,669.2 326,680C327,690.8 328.7,700 330,710C331.3,720 332.7,730 334,740C335.3,750 336.8,760 338,770C339.2,780 340.2,790.8 341,800C341.8,809.2 342.5,816.7 343,825C343.5,833.3 343,842.8 344,850C345,857.2 346.7,862.2 349,868C351.3,873.8 354.2,880.5 358,885C361.8,889.5 366.7,892 372,895C377.3,898 384.5,900.3 390,903C395.5,905.7 400,909.3 405,911C410,912.7 417.5,912.7 420,913" fill="none" stroke="#fff4e6" stroke-width="2.9" stroke-dasharray="6 11" stroke-opacity="1" stroke-dashoffset="3"/><path d="M436,896C434.7,894.3 430.7,890 428,886C425.3,882 422.5,877.5 420,872C417.5,866.5 414.8,860 413,853C411.2,846 410,838.8 409,830C408,821.2 406.8,810.8 407,800C407.2,789.2 408.7,775.8 410,765C411.3,754.2 413.5,744.2 415,735C416.5,725.8 417.7,719.2 419,710C420.3,700.8 421.9,690.8 423,680C424.1,669.2 424.8,656.7 425.5,645C426.2,633.3 426.8,615.8 427,610" fill="none" stroke="#fff4e6" stroke-width="2.9" stroke-dasharray="6 11" stroke-opacity="1" stroke-dashoffset="3"/><path d="M334,610C334.3,613.3 335.2,623.3 336,630C336.8,636.7 337.5,643 339,650C340.5,657 342.8,665.3 345,672C347.2,678.7 349.2,684 352,690C354.8,696 358.2,702.7 362,708C365.8,713.3 370.8,722 375,722C379.2,722 383.2,713.3 387,708C390.8,702.7 395,696 398,690C401,684 403,678.7 405,672C407,665.3 408.5,657 410,650C411.5,643 412.8,636.7 414,630C415.2,623.3 416.5,613.3 417,610" fill="none" stroke="#fff4e6" stroke-width="2.9" stroke-dasharray="6 11" stroke-opacity="1" stroke-dashoffset="3"/><path d="M410,903C410.2,901.7 409.8,897.3 411,895C412.2,892.7 416,890 417,889" fill="none" stroke="#fff4e6" stroke-width="2.9" stroke-dasharray="6 11" stroke-opacity="1" stroke-dashoffset="3"/><path d="M426,888C427.3,888.8 432,890.7 434,893C436,895.3 437.3,900.5 438,902" fill="none" stroke="#fff4e6" stroke-width="2.9" stroke-dasharray="6 11" stroke-opacity="1" stroke-dashoffset="3"/><text transform="translate(292,806) rotate(-90)" font-size="29" text-anchor="middle" fill="#c4222e" stroke="#c4222e" style="stroke-width:0.6px" dy="9.6">9500</text><text transform="translate(358,808) rotate(-90)" font-size="29" text-anchor="middle" fill="#fff4e6" stroke="#fff4e6" style="stroke-width:0.6px" dy="9.6">10200</text><text transform="translate(394,726) rotate(-50)" font-size="29" text-anchor="middle" fill="#fff4e6" stroke="#fff4e6" style="stroke-width:0.6px" dy="9.6">10400</text><text transform="translate(391,881) rotate(0)" font-size="29" text-anchor="middle" fill="#fff4e6" stroke="#fff4e6" style="stroke-width:0.6px" dy="9.6">10400</text><path d="M417.8,945 L423.1,921.5 Q424.5,915.5 430.5,915.5 L430.5,915.5 Q436.5,915.5 437.9,921.5 L443.2,945 Z" fill="url(#bgc)" filter="url(#b0_9)"/></g><path d="M95,610 H654" stroke="#111" stroke-width="1.3" fill="none"/><path d="M95,1013 H654" stroke="#111" stroke-width="1.3" fill="none" stroke-opacity="0.8"/><path d="M95,610 V1013" stroke="#111" stroke-width="1.2" fill="none" stroke-opacity="0.55"/><path d="M654,610 V1013" stroke="#111" stroke-width="1.0" fill="none" stroke-opacity="0.3"/><path d="M95,999.7h-6.5M95,971.8h-3.2M95,944h-6.5M95,916.2h-3.2M95,888.3h-6.5M95,860.5h-3.2M95,832.7h-6.5M95,804.8h-3.2M95,777h-6.5M95,749.2h-3.2M95,721.3h-6.5M95,693.5h-3.2M95,665.7h-6.5M95,637.8h-3.2M95,610h-6.5M95,1013v6.5M123,1013v3.2M150.9,1013v3.2M178.8,1013v3.2M206.8,1013v3.2M234.8,1013v6.5M262.7,1013v3.2M290.6,1013v3.2M318.6,1013v3.2M346.6,1013v3.2M374.5,1013v6.5M402.4,1013v3.2M430.4,1013v3.2M458.4,1013v3.2M486.3,1013v3.2M514.2,1013v6.5M542.2,1013v3.2M570.1,1013v3.2M598.1,1013v3.2M626,1013v3.2M654,1013v6.5" stroke="#333" stroke-width="1.5" fill="none" stroke-opacity="0.8"/><text x="82.5" y="1010.3" font-size="35" text-anchor="end" fill="#1a1a1a" stroke="#1a1a1a">-2</text><text x="82.5" y="954.6" font-size="35" text-anchor="end" fill="#1a1a1a" stroke="#1a1a1a">0</text><text x="82.5" y="898.9" font-size="35" text-anchor="end" fill="#1a1a1a" stroke="#1a1a1a">2</text><text x="82.5" y="843.3" font-size="35" text-anchor="end" fill="#1a1a1a" stroke="#1a1a1a">4</text><text x="82.5" y="787.6" font-size="35" text-anchor="end" fill="#1a1a1a" stroke="#1a1a1a">6</text><text x="82.5" y="731.9" font-size="35" text-anchor="end" fill="#1a1a1a" stroke="#1a1a1a">8</text><text x="82.5" y="676.3" font-size="35" text-anchor="end" fill="#1a1a1a" stroke="#1a1a1a">10</text><text x="82.5" y="620.6" font-size="35" text-anchor="end" fill="#1a1a1a" stroke="#1a1a1a">12</text><text x="95" y="1054" font-size="35" text-anchor="middle" fill="#1a1a1a" stroke="#1a1a1a">-10</text><text x="234.8" y="1054" font-size="35" text-anchor="middle" fill="#1a1a1a" stroke="#1a1a1a">-5</text><text x="374.5" y="1054" font-size="35" text-anchor="middle" fill="#1a1a1a" stroke="#1a1a1a">0</text><text x="514.2" y="1054" font-size="35" text-anchor="middle" fill="#1a1a1a" stroke="#1a1a1a">5</text><text x="654" y="1054" font-size="35" text-anchor="middle" fill="#1a1a1a" stroke="#1a1a1a">10</text><text x="375" y="1113" font-size="39.5" text-anchor="middle" fill="#1a1a1a" stroke="#1a1a1a"><tspan font-style="italic">y</tspan> (mm)</text><text transform="translate(31,811.5) rotate(-90)" font-size="38.5" text-anchor="middle" fill="#1a1a1a" stroke="#1a1a1a"><tspan font-style="italic">z</tspan> (mm)</text><text x="98.8" y="929.4" font-size="35" text-anchor="start" fill="#f0f0ff" stroke="#f0f0ff"><tspan font-style="italic">T</tspan><tspan font-size="23.1" dy="10.1" dx="-1.5">h</tspan><tspan dy="-10.1"> (K)</tspan></text><text x="98.8" y="969.9" font-size="35" text-anchor="start" fill="#0a0a0a" stroke="#0a0a0a"><tspan font-style="italic">T</tspan><tspan font-size="23.1" dy="10.1" dx="-1.5">s</tspan><tspan dy="-10.1"> (K)</tspan></text><text x="97" y="1006.8" font-size="35" text-anchor="start" fill="#0a0a0a" stroke="#0a0a0a">Maximum: 1500 K</text><text x="651.5" y="656.2" font-size="46" text-anchor="end" fill="#eef0ff" stroke="#eef0ff"><tspan font-size="50">(</tspan><tspan dx="1">c</tspan><tspan font-size="50" dx="1">)</tspan></text><rect x="676.4" y="645.6" width="36.2" height="180.4" fill="url(#ghc)" stroke="#1a1a1a" stroke-width="1.3" stroke-opacity="0.9"/><line x1="712.6" y1="682.4" x2="718.6" y2="682.4" stroke="#333" stroke-width="1.5" stroke-opacity="0.85"/><text x="734.5" y="694.2" font-size="35" text-anchor="start" fill="#1a1a1a" stroke="#1a1a1a">10200</text><line x1="712.6" y1="742" x2="718.6" y2="742" stroke="#333" stroke-width="1.5" stroke-opacity="0.85"/><text x="734.5" y="753.8" font-size="35" text-anchor="start" fill="#1a1a1a" stroke="#1a1a1a">9700</text><line x1="712.6" y1="799.6" x2="718.6" y2="799.6" stroke="#333" stroke-width="1.5" stroke-opacity="0.85"/><text x="734.5" y="811.4" font-size="35" text-anchor="start" fill="#1a1a1a" stroke="#1a1a1a">9200</text><text x="675.7" y="629.8" font-size="37" text-anchor="start" fill="#1a1a1a" stroke="#1a1a1a"><tspan font-style="italic">T</tspan><tspan font-size="26.6" dy="10.7" dx="0.5">h</tspan><tspan dy="-10.7"> (K)</tspan></text><rect x="678.6" y="885.4" width="35.4" height="163.6" fill="url(#gsc)" stroke="#1a1a1a" stroke-width="2" stroke-opacity="0.9"/><line x1="714" y1="889.4" x2="720" y2="889.4" stroke="#333" stroke-width="1.5" stroke-opacity="0.85"/><text x="735.8" y="900.7" font-size="33.5" text-anchor="start" fill="#1a1a1a" stroke="#1a1a1a">1450</text><line x1="714" y1="935.6" x2="720" y2="935.6" stroke="#333" stroke-width="1.5" stroke-opacity="0.85"/><text x="735.8" y="946.9" font-size="33.5" text-anchor="start" fill="#1a1a1a" stroke="#1a1a1a">1150</text><line x1="714" y1="981.6" x2="720" y2="981.6" stroke="#333" stroke-width="1.5" stroke-opacity="0.85"/><text x="735.8" y="992.9" font-size="33.5" text-anchor="start" fill="#1a1a1a" stroke="#1a1a1a">850</text><line x1="714" y1="1029" x2="720" y2="1029" stroke="#333" stroke-width="1.5" stroke-opacity="0.85"/><text x="735.8" y="1040.3" font-size="33.5" text-anchor="start" fill="#1a1a1a" stroke="#1a1a1a">550</text><text x="673.7" y="860.8" font-size="37" text-anchor="start" fill="#1a1a1a" stroke="#1a1a1a"><tspan font-style="italic">T</tspan><tspan font-size="26.6" dy="10.7" dx="0.5">s</tspan><tspan dy="-10.7"> (K)</tspan></text></g><g><g clip-path="url(#clipdg)"><g filter="url(#cmTh)"><rect x="979.8" y="608" width="564.2" height="339" fill="#000"/><g filter="url(#b9_0)"><path d="M1185.5,609.8C1184.8,613.9 1182.6,626.3 1181,634.6C1179.3,642.8 1177.7,650.2 1175.5,659.2C1173.4,668.2 1170.6,678.8 1168,688.7C1165.4,698.6 1162.1,708.5 1159.7,718.5C1157.3,728.6 1155.3,738.8 1153.7,748.9C1152.1,759 1151.1,769.9 1150.1,779.2C1149.2,788.5 1148.3,796.9 1148,804.6C1147.8,812.3 1147.9,818.5 1148.4,825.4C1149,832.4 1150,839.8 1151.3,846.2C1152.7,852.7 1154.3,858 1156.6,864C1158.9,870 1161.7,876.3 1165.1,882.3C1168.5,888.4 1173,895.6 1176.8,900.3C1180.7,904.9 1184.1,907.5 1188.2,910.4C1192.2,913.2 1196,915.6 1201.3,917.2C1206.5,918.8 1211.7,919.6 1219.9,920.1C1228,920.5 1238.3,920.1 1250,920.1C1261.7,920.1 1280,919.8 1289.9,920.1C1299.9,920.4 1303.7,920.9 1309.7,921.8C1315.7,922.8 1321.7,925.6 1326,925.5C1330.3,925.4 1333,923.2 1335.3,921.4C1337.6,919.6 1337.8,916.6 1339.8,914.8C1341.7,913.1 1344.5,911.1 1346.7,911C1348.8,910.9 1350.4,913.3 1352.7,914.3C1355,915.2 1358.7,918.2 1360.7,916.7C1362.6,915.1 1364.1,909.4 1364.3,904.7C1364.4,900.1 1362.5,894.8 1361.4,888.9C1360.4,882.9 1358.8,875.5 1358.1,868.9C1357.4,862.4 1357.6,856.8 1357.5,849.5C1357.4,842.2 1357.2,832.5 1357.6,825.2C1358,817.9 1359.2,813.3 1359.9,805.8C1360.7,798.3 1362,789.4 1361.9,780C1361.8,770.6 1360.5,759.4 1359.4,749.3C1358.3,739.2 1356.8,729.2 1355.4,719.3C1354,709.3 1352.6,699.3 1351.1,689.4C1349.6,679.4 1348,668.6 1346.5,659.5C1345,650.4 1343.5,642.9 1342,634.6C1340.5,626.4 1338.2,614 1337.5,609.8L1337.5,569.8 L1185.5,569.8 Z" fill="#272727" clip-path="url(#yc7)"/></g><path d="M1189,610.2C1188.5,614.4 1187.2,626.9 1186,635.3C1184.8,643.6 1183.6,651.2 1182,660.4C1180.3,669.5 1178.1,680.4 1176,690.4C1173.8,700.4 1171,710.4 1169,720.4C1167,730.4 1165.3,740.3 1164,750.3C1162.7,760.2 1161.8,771 1161,780.2C1160.2,789.3 1159.3,797.6 1159,805.1C1158.7,812.5 1158.7,818.3 1159,824.9C1159.3,831.5 1160,838.6 1161,844.7C1162,850.8 1163.1,855.7 1164.9,861.4C1166.7,867.1 1169,873.2 1171.8,879.1C1174.6,885.1 1178.4,892.3 1181.6,896.8C1184.9,901.4 1187.7,903.7 1191.2,906.4C1194.7,909.1 1197.8,911.5 1202.6,913.1C1207.4,914.7 1212.2,915.5 1220.1,916C1228,916.5 1238.3,916 1250,916C1261.7,916 1280,915.7 1290.1,916C1300.1,916.3 1304.3,917 1310.3,918C1316.3,919 1322.3,921.9 1326,922C1329.7,922.1 1330.9,920.3 1332.6,918.5C1334.4,916.8 1334.3,913.6 1336.6,911.6C1338.9,909.5 1343.3,906.2 1346.4,906C1349.4,905.8 1353.1,909 1355,910.3C1356.8,911.5 1356.9,914.4 1357.6,913.6C1358.3,912.7 1359.4,909 1359,905.2C1358.6,901.3 1356.6,896.3 1355.1,890.5C1353.6,884.7 1351.2,877.1 1350,870.3C1348.9,863.6 1348.5,857.7 1348,850.1C1347.5,842.6 1346.8,832.5 1347,825C1347.2,817.4 1348.3,812.3 1349,804.8C1349.7,797.3 1351,789.1 1351,780C1351,770.9 1349.8,760.1 1349,750.2C1348.2,740.2 1347,730.2 1346,720.2C1345,710.2 1344,700.2 1343,690.2C1342,680.2 1341,669.4 1340,660.2C1339,651.1 1338,643.6 1337,635.2C1336,626.9 1334.5,614.4 1334,610.2L1334,570.2 L1189,570.2 Z" fill="#636363" filter="url(#b6_0)"/><path d="M1194.5,609.6C1194.6,614.6 1194.9,629.8 1195.3,639.8C1195.6,649.9 1196.5,659.9 1196.8,669.9C1197.1,680 1197.1,691.7 1196.9,700.1C1196.8,708.4 1195.9,711.7 1196.1,720C1196.3,728.3 1197.4,739.9 1198.2,749.8C1198.9,759.8 1200.1,769.8 1200.5,779.8C1200.9,789.8 1200.7,799.8 1200.8,809.9C1200.9,819.9 1200.8,831.2 1201,839.9C1201.2,848.6 1201.3,855.6 1202,862.2C1202.8,868.7 1203.5,874 1205.5,879.2C1207.5,884.4 1210.4,889.5 1214.2,893.3C1218,897.1 1223.1,899.9 1228.2,901.9C1233.3,904 1239.4,905.4 1244.8,905.6C1250.2,905.9 1255.7,904.2 1260.8,903.3C1265.9,902.5 1270.8,901.3 1275.7,900.6C1280.5,899.8 1285.3,899 1290,899C1294.7,898.9 1300,899.5 1303.8,900.5C1307.7,901.4 1310.2,902.7 1313.2,904.8C1316.2,906.8 1318.1,909.6 1321.7,912.7C1325.4,915.9 1330.4,923.3 1335,923.5C1339.6,923.7 1344.9,916.6 1349.2,913.9C1353.5,911.2 1360.9,910.1 1360.7,907.4C1360.6,904.8 1352.2,900.7 1348.3,898.1C1344.4,895.6 1340.9,894.5 1337.4,892.1C1333.9,889.6 1330.4,886.7 1327.2,883.3C1324.1,879.9 1321,877 1318.6,871.4C1316.1,865.9 1314.2,857.7 1312.7,850C1311.3,842.3 1310.4,833.4 1310,825C1309.5,816.6 1309.4,807.3 1309.9,799.7C1310.3,792.1 1311.5,787.9 1312.5,779.6C1313.5,771.3 1314.8,759.7 1315.8,749.7C1316.9,739.8 1317.8,729.8 1318.9,719.9C1320,709.9 1321.1,700 1322.2,690C1323.2,680 1324,669.2 1325,660C1325.9,650.9 1326.7,643.4 1327.7,635.1C1328.6,626.8 1330,614.3 1330.5,610.1L1330.5,570.1 L1194.5,569.6 Z" fill="#8d8d8d" filter="url(#b5_5)"/><g filter="url(#b9_5)"><path d="M1194.5,609.6C1194.2,614.6 1193,629.7 1192.5,639.7C1192,649.7 1192,659.7 1191.5,669.7C1191,679.6 1190.2,691.1 1189.5,699.5C1188.9,707.8 1187.7,711.4 1187.5,719.9C1187.3,728.3 1188,740.2 1188.5,750.3C1189,760.4 1190,770.3 1190.5,780.3C1191,790.3 1191,800.3 1191.5,810.3C1192,820.4 1192.7,831.8 1193.5,840.6C1194.4,849.5 1195.2,856.6 1196.6,863.3C1198.1,870.1 1199.5,875.6 1202.2,880.9C1204.9,886.2 1208.5,891.2 1212.8,894.9C1217,898.6 1222.5,901.2 1227.8,903.1C1233.2,905.1 1239.3,906.3 1244.8,906.5C1250.3,906.7 1255.8,905.2 1261,904.4C1266.1,903.7 1271,902.6 1275.9,901.9C1280.7,901.3 1285.4,900.5 1290,900.5C1294.6,900.5 1299.8,901 1303.5,901.8C1307.3,902.7 1309.7,903.8 1312.7,905.6C1315.7,907.4 1317.9,909.9 1321.7,912.8C1325.4,915.8 1330.4,923.3 1335,923.5C1339.6,923.7 1344.8,916.6 1349.2,913.9C1353.6,911.3 1361.4,910.4 1361.5,907.5C1361.5,904.6 1353.3,899.5 1349.5,896.6C1345.8,893.6 1342.3,892.5 1339.1,889.9C1335.9,887.4 1332.8,884.3 1330.1,881C1327.5,877.7 1324.9,875.2 1323.1,869.9C1321.4,864.6 1320.2,856.8 1319.5,849.3C1318.7,841.8 1318.5,833.1 1318.5,825C1318.5,816.9 1318.8,807.9 1319.5,800.6C1320.1,793.2 1321.5,789.1 1322.5,780.8C1323.5,772.4 1324.6,760.6 1325.5,750.5C1326.3,740.5 1326.9,730.4 1327.5,720.4C1328.1,710.3 1328.7,700.3 1329,690.2C1329.3,680.2 1329.3,669.3 1329.5,660.1C1329.7,650.9 1329.8,643.5 1330,635.1C1330.2,626.8 1330.4,614.3 1330.5,610.1L1330.5,570.1 L1194.5,569.6 Z" fill="#8d8d8d" clip-path="url(#yc8)"/></g><path d="M1211,610C1210.8,614.2 1210.3,626.7 1210,635C1209.7,643.3 1208.8,650.8 1209,660C1209.2,669.2 1210.2,680 1211,690C1211.8,700 1212.7,710 1214,720C1215.3,730 1217.3,740 1219,750C1220.7,760 1222.3,770 1224,780C1225.7,790 1227.3,801.7 1229,810C1230.7,818.3 1232.2,824 1234,830C1235.8,836 1237.5,841.5 1240,846C1242.5,850.5 1245.7,854.5 1249,857C1252.3,859.5 1256.7,861.3 1260,861C1263.3,860.7 1266.5,858.2 1269,855C1271.5,851.8 1273,847.8 1275,842C1277,836.2 1279.2,827 1281,820C1282.8,813 1284.5,806.7 1286,800C1287.5,793.3 1288.3,788.3 1290,780C1291.7,771.7 1294,760 1296,750C1298,740 1300.2,730 1302,720C1303.8,710 1305.5,700 1307,690C1308.5,680 1310,669.2 1311,660C1312,650.8 1312.5,643.3 1313,635C1313.5,626.7 1313.8,614.2 1314,610L1314,570 L1211,570 Z" fill="#acacac" filter="url(#b8_0)"/><path d="M1216,610C1216.5,616.7 1217.3,636.7 1219,650C1220.7,663.3 1223.3,678 1226,690C1228.7,702 1231.8,712.3 1235,722C1238.2,731.7 1241.8,740 1245,748C1248.2,756 1251.5,763.3 1254,770C1256.5,776.7 1257.8,788 1260,788C1262.2,788 1264.3,776.7 1267,770C1269.7,763.3 1272.8,756 1276,748C1279.2,740 1283,731.7 1286,722C1289,712.3 1291.5,702 1294,690C1296.5,678 1299,663.3 1301,650C1303,636.7 1305.2,616.7 1306,610L1306,570 L1216,570 Z" fill="#bdbdbd" filter="url(#b10_0)"/><path d="M1220,610C1220.3,613.3 1221,623.3 1222,630C1223,636.7 1224.5,643 1226,650C1227.5,657 1229,665.3 1231,672C1233,678.7 1235.3,684 1238,690C1240.7,696 1243.3,702.7 1247,708C1250.7,713.3 1255.7,722 1260,722C1264.3,722 1268.8,713.3 1273,708C1277.2,702.7 1281.8,696 1285,690C1288.2,684 1289.8,678.7 1292,672C1294.2,665.3 1296.3,657 1298,650C1299.7,643 1300.7,636.7 1302,630C1303.3,623.3 1305.3,613.3 1306,610L1306,570 L1220,570 Z" fill="#dadada" filter="url(#b6_0)"/><path d="M1330.8,946 L1335.9,921.3 Q1337.5,913.5 1345.3,913.5 L1347.7,913.5 Q1355.5,913.5 1357.1,921.3 L1362.2,946 Z" fill="#000" filter="url(#b1_3)"/></g></g><g clip-path="url(#clipds)"><g filter="url(#cmTs)"><rect x="979.8" y="943" width="564.2" height="73" fill="#363636"/><g filter="url(#b1_5)"><rect x="1201" y="810" width="291" height="270" rx="135" fill="#363636"/><rect x="1216" y="825" width="261" height="240" rx="120" fill="#373737"/><rect x="1231" y="840" width="231" height="210" rx="105" fill="#383838"/><rect x="1240" y="849" width="213" height="192" rx="96" fill="#3a3a3a"/><rect x="1249" y="858" width="195" height="174" rx="87" fill="#3c3c3c"/><rect x="1258" y="867" width="177" height="156" rx="78" fill="#3e3e3e"/><rect x="1264" y="873" width="165" height="144" rx="72" fill="#404040"/><rect x="1270" y="879" width="153" height="132" rx="66" fill="#424242"/><rect x="1276" y="885" width="141" height="120" rx="60" fill="#434343"/><rect x="1280" y="889" width="133" height="112" rx="56" fill="#454545"/><rect x="1284" y="893" width="125" height="104" rx="52" fill="#474747"/><rect x="1288" y="897" width="117" height="96" rx="48" fill="#494949"/><rect x="1292" y="901" width="109" height="88" rx="44" fill="#4a4a4a"/><rect x="1296" y="905" width="101" height="80" rx="40" fill="#4c4c4c"/><rect x="1298.9" y="907.9" width="95.2" height="74.2" rx="37.1" fill="#4e4e4e"/><rect x="1301.8" y="910.8" width="89.5" height="68.5" rx="34.2" fill="#505050"/><rect x="1304.6" y="913.6" width="83.8" height="62.8" rx="31.4" fill="#515151"/><rect x="1307.5" y="916.5" width="78" height="57" rx="28.5" fill="#535353"/><rect x="1309.6" y="918.6" width="73.8" height="52.8" rx="26.4" fill="#555555"/><rect x="1311.7" y="920.7" width="69.6" height="48.6" rx="24.3" fill="#565656"/><rect x="1313.8" y="922.8" width="65.4" height="44.4" rx="22.2" fill="#585858"/><rect x="1315.9" y="924.9" width="61.2" height="40.2" rx="20.1" fill="#5a5a5a"/><rect x="1318" y="927" width="57" height="36" rx="18" fill="#5c5c5c"/><rect x="1318.9" y="927.9" width="55.2" height="34.2" rx="17.1" fill="#5d5d5d"/><rect x="1319.8" y="928.8" width="53.4" height="32.4" rx="16.2" fill="#5f5f5f"/><rect x="1320.7" y="929.7" width="51.7" height="30.7" rx="15.3" fill="#616161"/><rect x="1321.6" y="930.6" width="49.9" height="28.9" rx="14.4" fill="#626262"/><rect x="1322.4" y="931.4" width="48.1" height="27.1" rx="13.6" fill="#646464"/><rect x="1323.3" y="932.3" width="46.3" height="25.3" rx="12.7" fill="#666666"/><rect x="1324.2" y="933.2" width="44.6" height="23.6" rx="11.8" fill="#686868"/><rect x="1325.1" y="934.1" width="42.8" height="21.8" rx="10.9" fill="#696969"/><rect x="1326" y="935" width="41" height="20" rx="10" fill="#6b6b6b"/><rect x="1326.5" y="935.5" width="40" height="19" rx="9.5" fill="#6d6d6d"/><rect x="1327" y="936" width="39" height="18" rx="9" fill="#6f6f6f"/><rect x="1327.5" y="936.5" width="38" height="17" rx="8.5" fill="#707070"/><rect x="1328" y="937" width="37" height="16" rx="8" fill="#727272"/><rect x="1328.5" y="937.5" width="36" height="15" rx="7.5" fill="#747474"/><rect x="1329" y="938" width="35" height="14" rx="7" fill="#767676"/><rect x="1329.5" y="938.5" width="34" height="13" rx="6.5" fill="#777777"/><rect x="1330" y="939" width="33" height="12" rx="6" fill="#797979"/><rect x="1330.5" y="939.5" width="32" height="11" rx="5.5" fill="#7b7b7b"/><rect x="1330.7" y="939.7" width="31.5" height="10.5" rx="5.3" fill="#7c7c7c"/><rect x="1331" y="940" width="31.1" height="10.1" rx="5" fill="#7e7e7e"/><rect x="1331.2" y="940.2" width="30.6" height="9.6" rx="4.8" fill="#808080"/><rect x="1331.4" y="940.4" width="30.2" height="9.2" rx="4.6" fill="#828282"/><rect x="1331.7" y="940.6" width="29.7" height="8.7" rx="4.3" fill="#848484"/><rect x="1331.9" y="940.9" width="29.2" height="8.2" rx="4.1" fill="#858585"/><rect x="1332.1" y="941.1" width="28.8" height="7.8" rx="3.9" fill="#878787"/><rect x="1332.3" y="941.3" width="28.3" height="7.3" rx="3.7" fill="#898989"/><rect x="1332.6" y="941.6" width="27.9" height="6.9" rx="3.4" fill="#8b8b8b"/><rect x="1332.8" y="941.8" width="27.4" height="6.4" rx="3.2" fill="#8c8c8c"/><rect x="1333.1" y="942.1" width="26.7" height="5.7" rx="2.9" fill="#8e8e8e"/><rect x="1333.5" y="942.5" width="26" height="5" rx="2.5" fill="#909090"/><rect x="1333.8" y="942.8" width="25.4" height="4.4" rx="2.2" fill="#929292"/><rect x="1334.2" y="943.2" width="24.7" height="3.7" rx="1.8" fill="#949494"/><rect x="1334.5" y="943.5" width="24" height="3" rx="1.5" fill="#969696"/><rect x="1334.8" y="943.8" width="23.4" height="2.4" rx="1.2" fill="#979797"/><rect x="1335.1" y="944.1" width="22.8" height="1.8" rx="0.9" fill="#999999"/><rect x="1335.4" y="944.4" width="22.2" height="1.2" rx="0.6" fill="#9b9b9b"/></g></g></g><g clip-path="url(#clipd)"><path d="M1187,610C1186.5,614.2 1185.2,626.7 1184,635C1182.8,643.3 1181.7,650.8 1180,660C1178.3,669.2 1176.2,680 1174,690C1171.8,700 1169,710 1167,720C1165,730 1163.3,740 1162,750C1160.7,760 1159.8,770.8 1159,780C1158.2,789.2 1157.3,797.5 1157,805C1156.7,812.5 1156.7,818.3 1157,825C1157.3,831.7 1158,838.8 1159,845C1160,851.2 1161.2,856.2 1163,862C1164.8,867.8 1167.2,874 1170,880C1172.8,886 1176.7,893.3 1180,898C1183.3,902.7 1186.3,905.2 1190,908C1193.7,910.8 1197,913.3 1202,915C1207,916.7 1212,917.5 1220,918C1228,918.5 1238.3,918 1250,918C1261.7,918 1280,917.7 1290,918C1300,918.3 1304,919 1310,920C1316,921 1322,924 1326,924C1330,924 1332.7,920.7 1334,920" fill="none" stroke="#8e1f2e" stroke-width="3.0" stroke-dasharray="8 9" stroke-opacity="1" stroke-dashoffset="3"/><path d="M1359,915C1359.3,913.3 1361.3,909.2 1361,905C1360.7,900.8 1358.5,895.8 1357,890C1355.5,884.2 1353.2,876.7 1352,870C1350.8,863.3 1350.5,857.5 1350,850C1349.5,842.5 1348.8,832.5 1349,825C1349.2,817.5 1350.3,812.5 1351,805C1351.7,797.5 1353,789.2 1353,780C1353,770.8 1351.8,760 1351,750C1350.2,740 1349,730 1348,720C1347,710 1346,700 1345,690C1344,680 1343,669.2 1342,660C1341,650.8 1340,643.3 1339,635C1338,626.7 1336.5,614.2 1336,610" fill="none" stroke="#8e1f2e" stroke-width="3.0" stroke-dasharray="8 9" stroke-opacity="1" stroke-dashoffset="3"/><path d="M1201,610C1200.7,615 1199.5,630 1199,640C1198.5,650 1198.5,660 1198,670C1197.5,680 1196.7,691.7 1196,700C1195.3,708.3 1194.2,711.7 1194,720C1193.8,728.3 1194.5,740 1195,750C1195.5,760 1196.5,770 1197,780C1197.5,790 1197.5,800 1198,810C1198.5,820 1199.2,831.3 1200,840C1200.8,848.7 1201.7,855.7 1203,862C1204.3,868.3 1205.7,873.3 1208,878C1210.3,882.7 1213.3,886.8 1217,890C1220.7,893.2 1225.3,895.3 1230,897C1234.7,898.7 1240,899.8 1245,900C1250,900.2 1255,898.8 1260,898C1265,897.2 1270,896.2 1275,895.5C1280,894.8 1285,894 1290,894C1295,894 1300.7,894.5 1305,895.5C1309.3,896.5 1312.5,897.9 1316,900C1319.5,902.1 1322.8,905.2 1326,908C1329.2,910.8 1333.5,915.5 1335,917" fill="none" stroke="#3a1c05" stroke-width="3.3" stroke-dasharray="7 9.5" stroke-opacity="1" stroke-dashoffset="3"/><path d="M1355,908C1353.5,907 1349.3,904.2 1346,902C1342.7,899.8 1338.5,897.8 1335,895C1331.5,892.2 1328,888.8 1325,885C1322,881.2 1319,877.8 1317,872C1315,866.2 1313.8,857.8 1313,850C1312.2,842.2 1312,833.3 1312,825C1312,816.7 1312.3,807.5 1313,800C1313.7,792.5 1315,788.3 1316,780C1317,771.7 1318.2,760 1319,750C1319.8,740 1320.4,730 1321,720C1321.6,710 1322.2,700 1322.5,690C1322.8,680 1322.8,669.2 1323,660C1323.2,650.8 1323.3,643.3 1323.5,635C1323.7,626.7 1323.9,614.2 1324,610" fill="none" stroke="#3a1c05" stroke-width="3.3" stroke-dasharray="7 9.5" stroke-opacity="1" stroke-dashoffset="3"/><path d="M1211,610C1210.8,614.2 1210.3,626.7 1210,635C1209.7,643.3 1208.8,650.8 1209,660C1209.2,669.2 1210.2,680 1211,690C1211.8,700 1212.7,710 1214,720C1215.3,730 1217.3,740 1219,750C1220.7,760 1222.3,770 1224,780C1225.7,790 1227.3,801.7 1229,810C1230.7,818.3 1232.2,824 1234,830C1235.8,836 1237.5,841.5 1240,846C1242.5,850.5 1245.7,854.5 1249,857C1252.3,859.5 1256.7,861.3 1260,861C1263.3,860.7 1266.5,858.2 1269,855C1271.5,851.8 1273,847.8 1275,842C1277,836.2 1279.2,827 1281,820C1282.8,813 1284.5,806.7 1286,800C1287.5,793.3 1288.3,788.3 1290,780C1291.7,771.7 1294,760 1296,750C1298,740 1300.2,730 1302,720C1303.8,710 1305.5,700 1307,690C1308.5,680 1310,669.2 1311,660C1312,650.8 1312.5,643.3 1313,635C1313.5,626.7 1313.8,614.2 1314,610" fill="none" stroke="#fff4e6" stroke-width="2.9" stroke-dasharray="6 11" stroke-opacity="1" stroke-dashoffset="3"/><path d="M1220,610C1220.3,613.3 1221,623.3 1222,630C1223,636.7 1224.5,643 1226,650C1227.5,657 1229,665.3 1231,672C1233,678.7 1235.3,684 1238,690C1240.7,696 1243.3,702.7 1247,708C1250.7,713.3 1255.7,722 1260,722C1264.3,722 1268.8,713.3 1273,708C1277.2,702.7 1281.8,696 1285,690C1288.2,684 1289.8,678.7 1292,672C1294.2,665.3 1296.3,657 1298,650C1299.7,643 1300.7,636.7 1302,630C1303.3,623.3 1305.3,613.3 1306,610" fill="none" stroke="#fff4e6" stroke-width="2.9" stroke-dasharray="6 11" stroke-opacity="1" stroke-dashoffset="3"/><text transform="translate(1186,830) rotate(-90)" font-size="29" text-anchor="middle" fill="#c4222e" stroke="#c4222e" style="stroke-width:0.6px" dy="9.6">10000</text><text transform="translate(1242,800) rotate(-82)" font-size="29" text-anchor="middle" fill="#fff4e6" stroke="#fff4e6" style="stroke-width:0.6px" dy="9.6">10200</text><text transform="translate(1279,730) rotate(-50)" font-size="29" text-anchor="middle" fill="#fff4e6" stroke="#fff4e6" style="stroke-width:0.6px" dy="9.6">10400</text><text transform="translate(1338,806) rotate(-85)" font-size="29" text-anchor="middle" fill="#c4222e" stroke="#c4222e" style="stroke-width:0.6px" dy="9.6">9500</text><path d="M1333.8,946 L1339.1,922.5 Q1340.5,916.5 1346.5,916.5 L1346.5,916.5 Q1352.5,916.5 1353.9,922.5 L1359.2,946 Z" fill="url(#bgd)" filter="url(#b0_9)"/></g><path d="M981.8,610 H1542" stroke="#111" stroke-width="1.3" fill="none"/><path d="M981.8,1014 H1542" stroke="#111" stroke-width="1.3" fill="none" stroke-opacity="0.8"/><path d="M981.8,610 V1014" stroke="#111" stroke-width="1.2" fill="none" stroke-opacity="0.55"/><path d="M1542,610 V1014" stroke="#111" stroke-width="1.0" fill="none" stroke-opacity="0.3"/><path d="M981.8,1000.8h-6.5M981.8,972.9h-3.2M981.8,945h-6.5M981.8,917.1h-3.2M981.8,889.2h-6.5M981.8,861.2h-3.2M981.8,833.3h-6.5M981.8,805.4h-3.2M981.8,777.5h-6.5M981.8,749.6h-3.2M981.8,721.7h-6.5M981.8,693.8h-3.2M981.8,665.8h-6.5M981.8,637.9h-3.2M981.8,610h-6.5M981.8,1014v6.5M1009.8,1014v3.2M1037.8,1014v3.2M1065.8,1014v3.2M1093.8,1014v3.2M1121.9,1014v6.5M1149.9,1014v3.2M1177.9,1014v3.2M1205.9,1014v3.2M1233.9,1014v3.2M1261.9,1014v6.5M1289.9,1014v3.2M1317.9,1014v3.2M1345.9,1014v3.2M1373.9,1014v3.2M1402,1014v6.5M1430,1014v3.2M1458,1014v3.2M1486,1014v3.2M1514,1014v3.2M1542,1014v6.5" stroke="#333" stroke-width="1.5" fill="none" stroke-opacity="0.8"/><text x="969.3" y="1011.4" font-size="35" text-anchor="end" fill="#1a1a1a" stroke="#1a1a1a">-2</text><text x="969.3" y="955.6" font-size="35" text-anchor="end" fill="#1a1a1a" stroke="#1a1a1a">0</text><text x="969.3" y="899.8" font-size="35" text-anchor="end" fill="#1a1a1a" stroke="#1a1a1a">2</text><text x="969.3" y="843.9" font-size="35" text-anchor="end" fill="#1a1a1a" stroke="#1a1a1a">4</text><text x="969.3" y="788.1" font-size="35" text-anchor="end" fill="#1a1a1a" stroke="#1a1a1a">6</text><text x="969.3" y="732.3" font-size="35" text-anchor="end" fill="#1a1a1a" stroke="#1a1a1a">8</text><text x="969.3" y="676.4" font-size="35" text-anchor="end" fill="#1a1a1a" stroke="#1a1a1a">10</text><text x="969.3" y="620.6" font-size="35" text-anchor="end" fill="#1a1a1a" stroke="#1a1a1a">12</text><text x="981.8" y="1055" font-size="35" text-anchor="middle" fill="#1a1a1a" stroke="#1a1a1a">-10</text><text x="1121.9" y="1055" font-size="35" text-anchor="middle" fill="#1a1a1a" stroke="#1a1a1a">-5</text><text x="1261.9" y="1055" font-size="35" text-anchor="middle" fill="#1a1a1a" stroke="#1a1a1a">0</text><text x="1402" y="1055" font-size="35" text-anchor="middle" fill="#1a1a1a" stroke="#1a1a1a">5</text><text x="1542" y="1055" font-size="35" text-anchor="middle" fill="#1a1a1a" stroke="#1a1a1a">10</text><text x="1262.4" y="1114" font-size="39.5" text-anchor="middle" fill="#1a1a1a" stroke="#1a1a1a"><tspan font-style="italic">y</tspan> (mm)</text><text transform="translate(917.8,814.5) rotate(-90)" font-size="38.5" text-anchor="middle" fill="#1a1a1a" stroke="#1a1a1a"><tspan font-style="italic">z</tspan> (mm)</text><text x="988" y="933" font-size="35" text-anchor="start" fill="#f0f0ff" stroke="#f0f0ff"><tspan font-style="italic">T</tspan><tspan font-size="23.1" dy="10.1" dx="-1.5">h</tspan><tspan dy="-10.1"> (K)</tspan></text><text x="988" y="970.5" font-size="35" text-anchor="start" fill="#0a0a0a" stroke="#0a0a0a"><tspan font-style="italic">T</tspan><tspan font-size="23.1" dy="10.1" dx="-1.5">s</tspan><tspan dy="-10.1"> (K)</tspan></text><text x="985.5" y="1006.8" font-size="35" text-anchor="start" fill="#0a0a0a" stroke="#0a0a0a">Maximum: 1440 K</text><text x="1539.5" y="656.2" font-size="46" text-anchor="end" fill="#eef0ff" stroke="#eef0ff"><tspan font-size="50">(</tspan><tspan dx="1">d</tspan><tspan font-size="50" dx="1">)</tspan></text><rect x="1566.4" y="643.6" width="36.6" height="180.4" fill="url(#ghd)" stroke="#1a1a1a" stroke-width="1.3" stroke-opacity="0.9"/><line x1="1603" y1="680.6" x2="1609" y2="680.6" stroke="#333" stroke-width="1.5" stroke-opacity="0.85"/><text x="1625.5" y="692.4" font-size="35" text-anchor="start" fill="#1a1a1a" stroke="#1a1a1a">10200</text><line x1="1603" y1="739.4" x2="1609" y2="739.4" stroke="#333" stroke-width="1.5" stroke-opacity="0.85"/><text x="1625.5" y="751.2" font-size="35" text-anchor="start" fill="#1a1a1a" stroke="#1a1a1a">9700</text><line x1="1603" y1="798" x2="1609" y2="798" stroke="#333" stroke-width="1.5" stroke-opacity="0.85"/><text x="1625.5" y="809.8" font-size="35" text-anchor="start" fill="#1a1a1a" stroke="#1a1a1a">9200</text><text x="1566.7" y="628.8" font-size="37" text-anchor="start" fill="#1a1a1a" stroke="#1a1a1a"><tspan font-style="italic">T</tspan><tspan font-size="26.6" dy="10.7" dx="0.5">h</tspan><tspan dy="-10.7"> (K)</tspan></text><rect x="1568" y="886" width="35.6" height="164" fill="url(#gsd)" stroke="#1a1a1a" stroke-width="2" stroke-opacity="0.9"/><line x1="1603.6" y1="890" x2="1609.6" y2="890" stroke="#333" stroke-width="1.5" stroke-opacity="0.85"/><text x="1625.8" y="901.3" font-size="33.5" text-anchor="start" fill="#1a1a1a" stroke="#1a1a1a">1450</text><line x1="1603.6" y1="936" x2="1609.6" y2="936" stroke="#333" stroke-width="1.5" stroke-opacity="0.85"/><text x="1625.8" y="947.3" font-size="33.5" text-anchor="start" fill="#1a1a1a" stroke="#1a1a1a">1150</text><line x1="1603.6" y1="982.6" x2="1609.6" y2="982.6" stroke="#333" stroke-width="1.5" stroke-opacity="0.85"/><text x="1625.8" y="993.9" font-size="33.5" text-anchor="start" fill="#1a1a1a" stroke="#1a1a1a">850</text><line x1="1603.6" y1="1030" x2="1609.6" y2="1030" stroke="#333" stroke-width="1.5" stroke-opacity="0.85"/><text x="1625.8" y="1041.3" font-size="33.5" text-anchor="start" fill="#1a1a1a" stroke="#1a1a1a">550</text><text x="1563.7" y="861.8" font-size="37" text-anchor="start" fill="#1a1a1a" stroke="#1a1a1a"><tspan font-style="italic">T</tspan><tspan font-size="26.6" dy="10.7" dx="0.5">s</tspan><tspan dy="-10.7"> (K)</tspan></text></g>
</svg>
</body></html>
